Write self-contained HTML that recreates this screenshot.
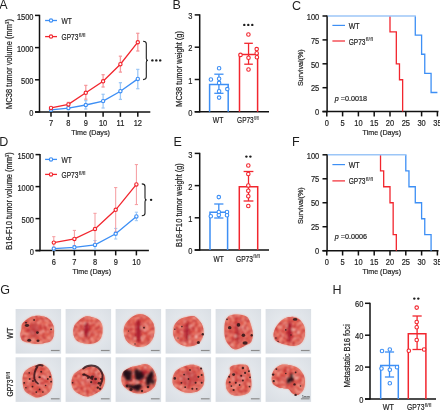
<!DOCTYPE html><html><head><meta charset="utf-8"><style>html,body{margin:0;padding:0;background:#fff;}body{width:440px;height:410px;overflow:hidden;}svg{display:block;will-change:transform;}text{font-family:"Liberation Sans", sans-serif;}</style></head><body><svg width="440" height="410" viewBox="0 0 440 410" font-family="'Liberation Sans', sans-serif">
<style>.t text{stroke:#1e1e1e;stroke-width:0.2px;paint-order:stroke;} </style>
<rect width="440" height="410" fill="#fff"/>
<g class="t">
<text x="-0.8" y="8.6" font-size="12.5" fill="#1e1e1e" style="stroke:none">A</text>
<text x="172.5" y="9.4" font-size="12.5" fill="#1e1e1e" style="stroke:none">B</text>
<text x="292.0" y="9.6" font-size="12.5" fill="#1e1e1e" style="stroke:none">C</text>
<text x="-0.8" y="145.8" font-size="12.5" fill="#1e1e1e" style="stroke:none">D</text>
<text x="173.5" y="145.5" font-size="12.5" fill="#1e1e1e" style="stroke:none">E</text>
<text x="292.0" y="146.2" font-size="12.5" fill="#1e1e1e" style="stroke:none">F</text>
<text x="0.2" y="293.9" font-size="12.5" fill="#1e1e1e" style="stroke:none">G</text>
<text x="332.5" y="294.3" font-size="12.5" fill="#1e1e1e" style="stroke:none">H</text>
<line x1="39.50" y1="14.80" x2="39.50" y2="112.60" stroke="#111" stroke-width="1.5" />
<line x1="35.00" y1="112.00" x2="39.50" y2="112.00" stroke="#111" stroke-width="1.5" />
<text x="0" y="0" font-size="8.6" text-anchor="end" fill="#1e1e1e" transform="translate(33.50 116.10) scale(0.87 1)" >0</text>
<line x1="35.00" y1="79.80" x2="39.50" y2="79.80" stroke="#111" stroke-width="1.5" />
<text x="0" y="0" font-size="8.6" text-anchor="end" fill="#1e1e1e" transform="translate(33.50 83.90) scale(0.87 1)" >500</text>
<line x1="35.00" y1="47.60" x2="39.50" y2="47.60" stroke="#111" stroke-width="1.5" />
<text x="0" y="0" font-size="8.6" text-anchor="end" fill="#1e1e1e" transform="translate(33.50 51.70) scale(0.87 1)" >1000</text>
<line x1="35.00" y1="15.40" x2="39.50" y2="15.40" stroke="#111" stroke-width="1.5" />
<text x="0" y="0" font-size="8.6" text-anchor="end" fill="#1e1e1e" transform="translate(33.50 19.50) scale(0.87 1)" >1500</text>
<line x1="35.00" y1="112.00" x2="150.30" y2="112.00" stroke="#111" stroke-width="1.5" />
<line x1="51.00" y1="112.00" x2="51.00" y2="116.80" stroke="#111" stroke-width="1.5" />
<text x="0" y="0" font-size="8.6" text-anchor="middle" fill="#1e1e1e" transform="translate(51.00 126.00) scale(0.87 1)" >7</text>
<line x1="68.40" y1="112.00" x2="68.40" y2="116.80" stroke="#111" stroke-width="1.5" />
<text x="0" y="0" font-size="8.6" text-anchor="middle" fill="#1e1e1e" transform="translate(68.40 126.00) scale(0.87 1)" >8</text>
<line x1="85.80" y1="112.00" x2="85.80" y2="116.80" stroke="#111" stroke-width="1.5" />
<text x="0" y="0" font-size="8.6" text-anchor="middle" fill="#1e1e1e" transform="translate(85.80 126.00) scale(0.87 1)" >9</text>
<line x1="103.10" y1="112.00" x2="103.10" y2="116.80" stroke="#111" stroke-width="1.5" />
<text x="0" y="0" font-size="8.6" text-anchor="middle" fill="#1e1e1e" transform="translate(103.10 126.00) scale(0.87 1)" >10</text>
<line x1="120.40" y1="112.00" x2="120.40" y2="116.80" stroke="#111" stroke-width="1.5" />
<text x="0" y="0" font-size="8.6" text-anchor="middle" fill="#1e1e1e" transform="translate(120.40 126.00) scale(0.87 1)" >11</text>
<line x1="137.80" y1="112.00" x2="137.80" y2="116.80" stroke="#111" stroke-width="1.5" />
<text x="0" y="0" font-size="8.6" text-anchor="middle" fill="#1e1e1e" transform="translate(137.80 126.00) scale(0.87 1)" >12</text>
<text x="90.60" y="135.30" font-size="7.8" text-anchor="middle" fill="#1e1e1e" textLength="38.5" lengthAdjust="spacingAndGlyphs" >Time (Days)</text>
<text x="11.9" y="64.0" font-size="8.2" text-anchor="middle" fill="#1e1e1e" transform="rotate(-90 11.9 64.0)" textLength="89.8" lengthAdjust="spacingAndGlyphs">MC38 tumor volume (mm<tspan font-size="4.5" dy="-2.5">3</tspan><tspan dy="2.5">)</tspan></text>
<line x1="68.40" y1="106.60" x2="68.40" y2="109.60" stroke="#9ec8f6" stroke-width="1.3" />
<line x1="66.80" y1="106.60" x2="70.00" y2="106.60" stroke="#9ec8f6" stroke-width="1.3" />
<line x1="66.80" y1="109.60" x2="70.00" y2="109.60" stroke="#9ec8f6" stroke-width="1.3" />
<line x1="85.80" y1="100.60" x2="85.80" y2="109.00" stroke="#9ec8f6" stroke-width="1.3" />
<line x1="84.20" y1="100.60" x2="87.40" y2="100.60" stroke="#9ec8f6" stroke-width="1.3" />
<line x1="84.20" y1="109.00" x2="87.40" y2="109.00" stroke="#9ec8f6" stroke-width="1.3" />
<line x1="103.10" y1="94.30" x2="103.10" y2="108.00" stroke="#9ec8f6" stroke-width="1.3" />
<line x1="101.50" y1="94.30" x2="104.70" y2="94.30" stroke="#9ec8f6" stroke-width="1.3" />
<line x1="101.50" y1="108.00" x2="104.70" y2="108.00" stroke="#9ec8f6" stroke-width="1.3" />
<line x1="120.40" y1="82.70" x2="120.40" y2="99.40" stroke="#9ec8f6" stroke-width="1.3" />
<line x1="118.80" y1="82.70" x2="122.00" y2="82.70" stroke="#9ec8f6" stroke-width="1.3" />
<line x1="118.80" y1="99.40" x2="122.00" y2="99.40" stroke="#9ec8f6" stroke-width="1.3" />
<line x1="137.80" y1="69.40" x2="137.80" y2="88.70" stroke="#9ec8f6" stroke-width="1.3" />
<line x1="136.20" y1="69.40" x2="139.40" y2="69.40" stroke="#9ec8f6" stroke-width="1.3" />
<line x1="136.20" y1="88.70" x2="139.40" y2="88.70" stroke="#9ec8f6" stroke-width="1.3" />
<line x1="68.40" y1="102.40" x2="68.40" y2="106.40" stroke="#f59a9e" stroke-width="1.3" />
<line x1="66.80" y1="102.40" x2="70.00" y2="102.40" stroke="#f59a9e" stroke-width="1.3" />
<line x1="66.80" y1="106.40" x2="70.00" y2="106.40" stroke="#f59a9e" stroke-width="1.3" />
<line x1="85.80" y1="85.40" x2="85.80" y2="99.20" stroke="#f59a9e" stroke-width="1.3" />
<line x1="84.20" y1="85.40" x2="87.40" y2="85.40" stroke="#f59a9e" stroke-width="1.3" />
<line x1="84.20" y1="99.20" x2="87.40" y2="99.20" stroke="#f59a9e" stroke-width="1.3" />
<line x1="103.10" y1="74.70" x2="103.10" y2="87.00" stroke="#f59a9e" stroke-width="1.3" />
<line x1="101.50" y1="74.70" x2="104.70" y2="74.70" stroke="#f59a9e" stroke-width="1.3" />
<line x1="101.50" y1="87.00" x2="104.70" y2="87.00" stroke="#f59a9e" stroke-width="1.3" />
<line x1="120.40" y1="56.20" x2="120.40" y2="72.10" stroke="#f59a9e" stroke-width="1.3" />
<line x1="118.80" y1="56.20" x2="122.00" y2="56.20" stroke="#f59a9e" stroke-width="1.3" />
<line x1="118.80" y1="72.10" x2="122.00" y2="72.10" stroke="#f59a9e" stroke-width="1.3" />
<line x1="137.80" y1="33.30" x2="137.80" y2="51.00" stroke="#f59a9e" stroke-width="1.3" />
<line x1="136.20" y1="33.30" x2="139.40" y2="33.30" stroke="#f59a9e" stroke-width="1.3" />
<line x1="136.20" y1="51.00" x2="139.40" y2="51.00" stroke="#f59a9e" stroke-width="1.3" />
<polyline points="51.00,109.80 68.40,108.10 85.80,105.00 103.10,101.10 120.40,91.20 137.80,78.90" fill="none" stroke="#3d8ff5" stroke-width="1.3"/>
<circle cx="51.00" cy="109.80" r="1.65" fill="#fff" stroke="#3d8ff5" stroke-width="1.15"/>
<circle cx="68.40" cy="108.10" r="1.65" fill="#fff" stroke="#3d8ff5" stroke-width="1.15"/>
<circle cx="85.80" cy="105.00" r="1.65" fill="#fff" stroke="#3d8ff5" stroke-width="1.15"/>
<circle cx="103.10" cy="101.10" r="1.65" fill="#fff" stroke="#3d8ff5" stroke-width="1.15"/>
<circle cx="120.40" cy="91.20" r="1.65" fill="#fff" stroke="#3d8ff5" stroke-width="1.15"/>
<circle cx="137.80" cy="78.90" r="1.65" fill="#fff" stroke="#3d8ff5" stroke-width="1.15"/>
<polyline points="51.00,107.90 68.40,104.40 85.80,92.80 103.10,81.30 120.40,64.20 137.80,42.20" fill="none" stroke="#f2262e" stroke-width="1.3"/>
<circle cx="51.00" cy="107.90" r="1.65" fill="#fff" stroke="#f2262e" stroke-width="1.15"/>
<circle cx="68.40" cy="104.40" r="1.65" fill="#fff" stroke="#f2262e" stroke-width="1.15"/>
<circle cx="85.80" cy="92.80" r="1.65" fill="#fff" stroke="#f2262e" stroke-width="1.15"/>
<circle cx="103.10" cy="81.30" r="1.65" fill="#fff" stroke="#f2262e" stroke-width="1.15"/>
<circle cx="120.40" cy="64.20" r="1.65" fill="#fff" stroke="#f2262e" stroke-width="1.15"/>
<circle cx="137.80" cy="42.20" r="1.65" fill="#fff" stroke="#f2262e" stroke-width="1.15"/>
<line x1="45.10" y1="20.50" x2="57.00" y2="20.50" stroke="#3d8ff5" stroke-width="1.3" />
<circle cx="51.00" cy="20.50" r="1.65" fill="#fff" stroke="#3d8ff5" stroke-width="1.15"/>
<line x1="45.10" y1="36.60" x2="57.00" y2="36.60" stroke="#f2262e" stroke-width="1.3" />
<circle cx="51.00" cy="36.60" r="1.65" fill="#fff" stroke="#f2262e" stroke-width="1.15"/>
<text x="61.60" y="23.90" font-size="8.3" text-anchor="start" fill="#1e1e1e" textLength="10.30" lengthAdjust="spacingAndGlyphs" >WT</text>
<text x="61.60" y="39.80" font-size="8.3" text-anchor="start" fill="#1e1e1e" textLength="16.80" lengthAdjust="spacingAndGlyphs" >GP73</text>
<text x="78.70" y="36.70" font-size="4.5" fill="#1e1e1e" textLength="6.90" lengthAdjust="spacingAndGlyphs" style="stroke-width:0.05px">fl/fl</text>
<path d="M143.10,41.20 Q146.30,41.20 146.30,43.70 L146.30,58.60 Q146.30,60.40 147.90,60.40 Q146.30,60.40 146.30,62.20 L146.30,77.10 Q146.30,79.60 143.10,79.60" fill="none" stroke="#1e1e1e" stroke-width="1.1"/>
<circle cx="152.40" cy="60.40" r="1.2" fill="#1e1e1e"/>
<circle cx="156.30" cy="60.40" r="1.2" fill="#1e1e1e"/>
<circle cx="160.20" cy="60.40" r="1.2" fill="#1e1e1e"/>
<line x1="40.00" y1="154.00" x2="40.00" y2="251.20" stroke="#111" stroke-width="1.5" />
<line x1="35.50" y1="250.60" x2="40.00" y2="250.60" stroke="#111" stroke-width="1.5" />
<text x="0" y="0" font-size="8.6" text-anchor="end" fill="#1e1e1e" transform="translate(34.00 254.70) scale(0.87 1)" >0</text>
<line x1="35.50" y1="218.60" x2="40.00" y2="218.60" stroke="#111" stroke-width="1.5" />
<text x="0" y="0" font-size="8.6" text-anchor="end" fill="#1e1e1e" transform="translate(34.00 222.70) scale(0.87 1)" >500</text>
<line x1="35.50" y1="186.60" x2="40.00" y2="186.60" stroke="#111" stroke-width="1.5" />
<text x="0" y="0" font-size="8.6" text-anchor="end" fill="#1e1e1e" transform="translate(34.00 190.70) scale(0.87 1)" >1000</text>
<line x1="35.50" y1="154.60" x2="40.00" y2="154.60" stroke="#111" stroke-width="1.5" />
<text x="0" y="0" font-size="8.6" text-anchor="end" fill="#1e1e1e" transform="translate(34.00 158.70) scale(0.87 1)" >1500</text>
<line x1="35.50" y1="250.60" x2="148.90" y2="250.60" stroke="#111" stroke-width="1.5" />
<line x1="53.80" y1="250.60" x2="53.80" y2="255.40" stroke="#111" stroke-width="1.5" />
<text x="0" y="0" font-size="8.6" text-anchor="middle" fill="#1e1e1e" transform="translate(53.80 264.80) scale(0.87 1)" >6</text>
<line x1="74.40" y1="250.60" x2="74.40" y2="255.40" stroke="#111" stroke-width="1.5" />
<text x="0" y="0" font-size="8.6" text-anchor="middle" fill="#1e1e1e" transform="translate(74.40 264.80) scale(0.87 1)" >7</text>
<line x1="95.00" y1="250.60" x2="95.00" y2="255.40" stroke="#111" stroke-width="1.5" />
<text x="0" y="0" font-size="8.6" text-anchor="middle" fill="#1e1e1e" transform="translate(95.00 264.80) scale(0.87 1)" >8</text>
<line x1="115.70" y1="250.60" x2="115.70" y2="255.40" stroke="#111" stroke-width="1.5" />
<text x="0" y="0" font-size="8.6" text-anchor="middle" fill="#1e1e1e" transform="translate(115.70 264.80) scale(0.87 1)" >9</text>
<line x1="136.40" y1="250.60" x2="136.40" y2="255.40" stroke="#111" stroke-width="1.5" />
<text x="0" y="0" font-size="8.6" text-anchor="middle" fill="#1e1e1e" transform="translate(136.40 264.80) scale(0.87 1)" >10</text>
<text x="91.80" y="273.80" font-size="7.8" text-anchor="middle" fill="#1e1e1e" textLength="38.5" lengthAdjust="spacingAndGlyphs" >Time (Days)</text>
<text x="11.5" y="201.0" font-size="8.2" text-anchor="middle" fill="#1e1e1e" transform="rotate(-90 11.5 201.0)" textLength="97.3" lengthAdjust="spacingAndGlyphs">B16-F10 tumor volume (mm<tspan font-size="4.5" dy="-2.5">3</tspan><tspan dy="2.5">)</tspan></text>
<line x1="53.80" y1="247.00" x2="53.80" y2="250.20" stroke="#9ec8f6" stroke-width="1.0" />
<line x1="52.20" y1="247.00" x2="55.40" y2="247.00" stroke="#9ec8f6" stroke-width="1.0" />
<line x1="52.20" y1="250.20" x2="55.40" y2="250.20" stroke="#9ec8f6" stroke-width="1.0" />
<line x1="74.40" y1="245.50" x2="74.40" y2="249.10" stroke="#9ec8f6" stroke-width="1.0" />
<line x1="72.80" y1="245.50" x2="76.00" y2="245.50" stroke="#9ec8f6" stroke-width="1.0" />
<line x1="72.80" y1="249.10" x2="76.00" y2="249.10" stroke="#9ec8f6" stroke-width="1.0" />
<line x1="95.00" y1="240.50" x2="95.00" y2="249.30" stroke="#9ec8f6" stroke-width="1.0" />
<line x1="93.40" y1="240.50" x2="96.60" y2="240.50" stroke="#9ec8f6" stroke-width="1.0" />
<line x1="93.40" y1="249.30" x2="96.60" y2="249.30" stroke="#9ec8f6" stroke-width="1.0" />
<line x1="115.70" y1="228.40" x2="115.70" y2="239.00" stroke="#9ec8f6" stroke-width="1.0" />
<line x1="114.10" y1="228.40" x2="117.30" y2="228.40" stroke="#9ec8f6" stroke-width="1.0" />
<line x1="114.10" y1="239.00" x2="117.30" y2="239.00" stroke="#9ec8f6" stroke-width="1.0" />
<line x1="136.40" y1="212.20" x2="136.40" y2="220.70" stroke="#9ec8f6" stroke-width="1.0" />
<line x1="134.80" y1="212.20" x2="138.00" y2="212.20" stroke="#9ec8f6" stroke-width="1.0" />
<line x1="134.80" y1="220.70" x2="138.00" y2="220.70" stroke="#9ec8f6" stroke-width="1.0" />
<line x1="53.80" y1="236.70" x2="53.80" y2="248.50" stroke="#f59a9e" stroke-width="1.0" />
<line x1="52.20" y1="236.70" x2="55.40" y2="236.70" stroke="#f59a9e" stroke-width="1.0" />
<line x1="52.20" y1="248.50" x2="55.40" y2="248.50" stroke="#f59a9e" stroke-width="1.0" />
<line x1="74.40" y1="230.40" x2="74.40" y2="247.40" stroke="#f59a9e" stroke-width="1.0" />
<line x1="72.80" y1="230.40" x2="76.00" y2="230.40" stroke="#f59a9e" stroke-width="1.0" />
<line x1="72.80" y1="247.40" x2="76.00" y2="247.40" stroke="#f59a9e" stroke-width="1.0" />
<line x1="95.00" y1="213.30" x2="95.00" y2="244.70" stroke="#f59a9e" stroke-width="1.0" />
<line x1="93.40" y1="213.30" x2="96.60" y2="213.30" stroke="#f59a9e" stroke-width="1.0" />
<line x1="93.40" y1="244.70" x2="96.60" y2="244.70" stroke="#f59a9e" stroke-width="1.0" />
<line x1="115.70" y1="187.60" x2="115.70" y2="232.00" stroke="#f59a9e" stroke-width="1.0" />
<line x1="114.10" y1="187.60" x2="117.30" y2="187.60" stroke="#f59a9e" stroke-width="1.0" />
<line x1="114.10" y1="232.00" x2="117.30" y2="232.00" stroke="#f59a9e" stroke-width="1.0" />
<line x1="136.40" y1="164.60" x2="136.40" y2="204.60" stroke="#f59a9e" stroke-width="1.0" />
<line x1="134.80" y1="164.60" x2="138.00" y2="164.60" stroke="#f59a9e" stroke-width="1.0" />
<line x1="134.80" y1="204.60" x2="138.00" y2="204.60" stroke="#f59a9e" stroke-width="1.0" />
<polyline points="53.80,248.60 74.40,247.30 95.00,244.90 115.70,233.70 136.40,216.40" fill="none" stroke="#3d8ff5" stroke-width="1.3"/>
<circle cx="53.80" cy="248.60" r="1.65" fill="#fff" stroke="#3d8ff5" stroke-width="1.15"/>
<circle cx="74.40" cy="247.30" r="1.65" fill="#fff" stroke="#3d8ff5" stroke-width="1.15"/>
<circle cx="95.00" cy="244.90" r="1.65" fill="#fff" stroke="#3d8ff5" stroke-width="1.15"/>
<circle cx="115.70" cy="233.70" r="1.65" fill="#fff" stroke="#3d8ff5" stroke-width="1.15"/>
<circle cx="136.40" cy="216.40" r="1.65" fill="#fff" stroke="#3d8ff5" stroke-width="1.15"/>
<polyline points="53.80,242.60 74.40,238.90 95.00,229.00 115.70,209.80 136.40,184.40" fill="none" stroke="#f2262e" stroke-width="1.3"/>
<circle cx="53.80" cy="242.60" r="1.65" fill="#fff" stroke="#f2262e" stroke-width="1.15"/>
<circle cx="74.40" cy="238.90" r="1.65" fill="#fff" stroke="#f2262e" stroke-width="1.15"/>
<circle cx="95.00" cy="229.00" r="1.65" fill="#fff" stroke="#f2262e" stroke-width="1.15"/>
<circle cx="115.70" cy="209.80" r="1.65" fill="#fff" stroke="#f2262e" stroke-width="1.15"/>
<circle cx="136.40" cy="184.40" r="1.65" fill="#fff" stroke="#f2262e" stroke-width="1.15"/>
<line x1="45.10" y1="159.40" x2="57.00" y2="159.40" stroke="#3d8ff5" stroke-width="1.3" />
<circle cx="51.00" cy="159.40" r="1.65" fill="#fff" stroke="#3d8ff5" stroke-width="1.15"/>
<line x1="45.10" y1="174.40" x2="57.00" y2="174.40" stroke="#f2262e" stroke-width="1.3" />
<circle cx="51.00" cy="174.40" r="1.65" fill="#fff" stroke="#f2262e" stroke-width="1.15"/>
<text x="61.60" y="162.80" font-size="8.3" text-anchor="start" fill="#1e1e1e" textLength="10.30" lengthAdjust="spacingAndGlyphs" >WT</text>
<text x="61.60" y="177.60" font-size="8.3" text-anchor="start" fill="#1e1e1e" textLength="16.80" lengthAdjust="spacingAndGlyphs" >GP73</text>
<text x="78.70" y="174.50" font-size="4.5" fill="#1e1e1e" textLength="6.90" lengthAdjust="spacingAndGlyphs" style="stroke-width:0.05px">fl/fl</text>
<path d="M141.80,183.90 Q145.00,183.90 145.00,186.40 L145.00,198.05 Q145.00,199.85 146.60,199.85 Q145.00,199.85 145.00,201.65 L145.00,213.30 Q145.00,215.80 141.80,215.80" fill="none" stroke="#1e1e1e" stroke-width="1.1"/>
<circle cx="151.10" cy="199.85" r="1.2" fill="#1e1e1e"/>
<line x1="199.70" y1="14.30" x2="199.70" y2="112.40" stroke="#111" stroke-width="1.5" />
<line x1="194.70" y1="111.80" x2="199.70" y2="111.80" stroke="#111" stroke-width="1.5" />
<text x="0" y="0" font-size="8.6" text-anchor="end" fill="#1e1e1e" transform="translate(192.30 115.90) scale(0.87 1)" >0</text>
<line x1="194.70" y1="79.50" x2="199.70" y2="79.50" stroke="#111" stroke-width="1.5" />
<text x="0" y="0" font-size="8.6" text-anchor="end" fill="#1e1e1e" transform="translate(192.30 83.60) scale(0.87 1)" >1</text>
<line x1="194.70" y1="47.20" x2="199.70" y2="47.20" stroke="#111" stroke-width="1.5" />
<text x="0" y="0" font-size="8.6" text-anchor="end" fill="#1e1e1e" transform="translate(192.30 51.30) scale(0.87 1)" >2</text>
<line x1="194.70" y1="14.90" x2="199.70" y2="14.90" stroke="#111" stroke-width="1.5" />
<text x="0" y="0" font-size="8.6" text-anchor="end" fill="#1e1e1e" transform="translate(192.30 19.00) scale(0.87 1)" >3</text>
<line x1="194.70" y1="111.80" x2="269.00" y2="111.80" stroke="#111" stroke-width="1.5" />
<text x="181.9" y="68.9" font-size="8.2" text-anchor="middle" fill="#1e1e1e" transform="rotate(-90 181.9 68.9)" textLength="75.7" lengthAdjust="spacingAndGlyphs">MC38 tumor weight (g)</text>
<path d="M209.60,111.80 L209.60,84.50 L228.20,84.50 L228.20,111.80" fill="none" stroke="#3d8ff5" stroke-width="1.5"/>
<line x1="218.90" y1="74.20" x2="218.90" y2="93.30" stroke="#3d8ff5" stroke-width="1.3" />
<line x1="214.30" y1="74.20" x2="223.50" y2="74.20" stroke="#3d8ff5" stroke-width="1.3" />
<line x1="214.30" y1="93.30" x2="223.50" y2="93.30" stroke="#3d8ff5" stroke-width="1.3" />
<circle cx="219.10" cy="68.20" r="1.75" fill="#fff" stroke="#3d8ff5" stroke-width="1.1"/>
<circle cx="210.90" cy="79.50" r="1.75" fill="#fff" stroke="#3d8ff5" stroke-width="1.1"/>
<circle cx="219.10" cy="78.70" r="1.75" fill="#fff" stroke="#3d8ff5" stroke-width="1.1"/>
<circle cx="219.10" cy="82.90" r="1.75" fill="#fff" stroke="#3d8ff5" stroke-width="1.1"/>
<circle cx="227.30" cy="89.10" r="1.75" fill="#fff" stroke="#3d8ff5" stroke-width="1.1"/>
<circle cx="219.10" cy="91.30" r="1.75" fill="#fff" stroke="#3d8ff5" stroke-width="1.1"/>
<circle cx="219.10" cy="97.60" r="1.75" fill="#fff" stroke="#3d8ff5" stroke-width="1.1"/>
<path d="M239.50,111.80 L239.50,54.50 L257.60,54.50 L257.60,111.80" fill="none" stroke="#f2262e" stroke-width="1.5"/>
<line x1="248.55" y1="43.30" x2="248.55" y2="64.20" stroke="#f2262e" stroke-width="1.3" />
<line x1="244.25" y1="43.30" x2="252.85" y2="43.30" stroke="#f2262e" stroke-width="1.3" />
<line x1="244.25" y1="64.20" x2="252.85" y2="64.20" stroke="#f2262e" stroke-width="1.3" />
<circle cx="248.40" cy="34.50" r="1.75" fill="#fff" stroke="#f2262e" stroke-width="1.1"/>
<circle cx="256.70" cy="49.10" r="1.75" fill="#fff" stroke="#f2262e" stroke-width="1.1"/>
<circle cx="256.70" cy="53.30" r="1.75" fill="#fff" stroke="#f2262e" stroke-width="1.1"/>
<circle cx="256.90" cy="57.30" r="1.75" fill="#fff" stroke="#f2262e" stroke-width="1.1"/>
<circle cx="240.50" cy="54.90" r="1.75" fill="#fff" stroke="#f2262e" stroke-width="1.1"/>
<circle cx="248.50" cy="57.80" r="1.75" fill="#fff" stroke="#f2262e" stroke-width="1.1"/>
<circle cx="248.50" cy="69.50" r="1.75" fill="#fff" stroke="#f2262e" stroke-width="1.1"/>
<circle cx="244.30" cy="24.90" r="1.2" fill="#1e1e1e"/>
<circle cx="248.30" cy="24.90" r="1.2" fill="#1e1e1e"/>
<circle cx="252.30" cy="24.90" r="1.2" fill="#1e1e1e"/>
<text x="212.80" y="122.70" font-size="8.3" text-anchor="start" fill="#1e1e1e" textLength="10.60" lengthAdjust="spacingAndGlyphs" >WT</text>
<text x="237.10" y="122.70" font-size="8.3" text-anchor="start" fill="#1e1e1e" textLength="16.60" lengthAdjust="spacingAndGlyphs" >GP73</text>
<text x="254.00" y="119.60" font-size="4.5" fill="#1e1e1e" textLength="4.80" lengthAdjust="spacingAndGlyphs" style="stroke-width:0.05px">fl/fl</text>
<line x1="199.70" y1="152.80" x2="199.70" y2="250.60" stroke="#111" stroke-width="1.5" />
<line x1="194.70" y1="250.00" x2="199.70" y2="250.00" stroke="#111" stroke-width="1.5" />
<text x="0" y="0" font-size="8.6" text-anchor="end" fill="#1e1e1e" transform="translate(192.30 254.10) scale(0.87 1)" >0</text>
<line x1="194.70" y1="217.80" x2="199.70" y2="217.80" stroke="#111" stroke-width="1.5" />
<text x="0" y="0" font-size="8.6" text-anchor="end" fill="#1e1e1e" transform="translate(192.30 221.90) scale(0.87 1)" >1</text>
<line x1="194.70" y1="185.60" x2="199.70" y2="185.60" stroke="#111" stroke-width="1.5" />
<text x="0" y="0" font-size="8.6" text-anchor="end" fill="#1e1e1e" transform="translate(192.30 189.70) scale(0.87 1)" >2</text>
<line x1="194.70" y1="153.40" x2="199.70" y2="153.40" stroke="#111" stroke-width="1.5" />
<text x="0" y="0" font-size="8.6" text-anchor="end" fill="#1e1e1e" transform="translate(192.30 157.50) scale(0.87 1)" >3</text>
<line x1="194.70" y1="250.00" x2="269.00" y2="250.00" stroke="#111" stroke-width="1.5" />
<text x="181.9" y="205.1" font-size="8.2" text-anchor="middle" fill="#1e1e1e" transform="rotate(-90 181.9 205.1)" textLength="83.8" lengthAdjust="spacingAndGlyphs">B16-F10 tumor weight (g)</text>
<path d="M210.00,250.00 L210.00,212.20 L227.60,212.20 L227.60,250.00" fill="none" stroke="#3d8ff5" stroke-width="1.5"/>
<line x1="218.80" y1="204.00" x2="218.80" y2="218.00" stroke="#3d8ff5" stroke-width="1.3" />
<line x1="214.20" y1="204.00" x2="223.40" y2="204.00" stroke="#3d8ff5" stroke-width="1.3" />
<line x1="214.20" y1="218.00" x2="223.40" y2="218.00" stroke="#3d8ff5" stroke-width="1.3" />
<circle cx="218.80" cy="197.10" r="1.75" fill="#fff" stroke="#3d8ff5" stroke-width="1.1"/>
<circle cx="210.80" cy="216.20" r="1.75" fill="#fff" stroke="#3d8ff5" stroke-width="1.1"/>
<circle cx="218.80" cy="215.00" r="1.75" fill="#fff" stroke="#3d8ff5" stroke-width="1.1"/>
<circle cx="227.00" cy="212.00" r="1.75" fill="#fff" stroke="#3d8ff5" stroke-width="1.1"/>
<circle cx="227.00" cy="215.20" r="1.75" fill="#fff" stroke="#3d8ff5" stroke-width="1.1"/>
<circle cx="218.80" cy="212.00" r="1.75" fill="#fff" stroke="#3d8ff5" stroke-width="1.1"/>
<path d="M239.30,250.00 L239.30,186.80 L257.70,186.80 L257.70,250.00" fill="none" stroke="#f2262e" stroke-width="1.5"/>
<line x1="248.50" y1="171.50" x2="248.50" y2="201.00" stroke="#f2262e" stroke-width="1.3" />
<line x1="243.60" y1="171.50" x2="253.40" y2="171.50" stroke="#f2262e" stroke-width="1.3" />
<line x1="243.60" y1="201.00" x2="253.40" y2="201.00" stroke="#f2262e" stroke-width="1.3" />
<circle cx="248.30" cy="165.50" r="1.75" fill="#fff" stroke="#f2262e" stroke-width="1.1"/>
<circle cx="248.30" cy="174.00" r="1.75" fill="#fff" stroke="#f2262e" stroke-width="1.1"/>
<circle cx="248.30" cy="185.50" r="1.75" fill="#fff" stroke="#f2262e" stroke-width="1.1"/>
<circle cx="248.30" cy="190.80" r="1.75" fill="#fff" stroke="#f2262e" stroke-width="1.1"/>
<circle cx="248.30" cy="196.20" r="1.75" fill="#fff" stroke="#f2262e" stroke-width="1.1"/>
<circle cx="248.30" cy="206.00" r="1.75" fill="#fff" stroke="#f2262e" stroke-width="1.1"/>
<circle cx="246.40" cy="156.60" r="1.2" fill="#1e1e1e"/>
<circle cx="250.40" cy="156.60" r="1.2" fill="#1e1e1e"/>
<text x="213.50" y="261.50" font-size="8.3" text-anchor="start" fill="#1e1e1e" textLength="10.20" lengthAdjust="spacingAndGlyphs" >WT</text>
<text x="236.00" y="261.50" font-size="8.3" text-anchor="start" fill="#1e1e1e" textLength="17.00" lengthAdjust="spacingAndGlyphs" >GP73</text>
<text x="253.30" y="258.40" font-size="4.5" fill="#1e1e1e" textLength="6.70" lengthAdjust="spacingAndGlyphs" style="stroke-width:0.05px">fl/fl</text>
<line x1="370.00" y1="302.70" x2="370.00" y2="399.60" stroke="#111" stroke-width="1.5" />
<line x1="365.00" y1="399.00" x2="370.00" y2="399.00" stroke="#111" stroke-width="1.5" />
<text x="0" y="0" font-size="8.6" text-anchor="end" fill="#1e1e1e" transform="translate(363.30 403.10) scale(0.87 1)" >0</text>
<line x1="365.00" y1="367.10" x2="370.00" y2="367.10" stroke="#111" stroke-width="1.5" />
<text x="0" y="0" font-size="8.6" text-anchor="end" fill="#1e1e1e" transform="translate(363.30 371.20) scale(0.87 1)" >20</text>
<line x1="365.00" y1="335.20" x2="370.00" y2="335.20" stroke="#111" stroke-width="1.5" />
<text x="0" y="0" font-size="8.6" text-anchor="end" fill="#1e1e1e" transform="translate(363.30 339.30) scale(0.87 1)" >40</text>
<line x1="365.00" y1="303.30" x2="370.00" y2="303.30" stroke="#111" stroke-width="1.5" />
<text x="0" y="0" font-size="8.6" text-anchor="end" fill="#1e1e1e" transform="translate(363.30 307.40) scale(0.87 1)" >60</text>
<line x1="365.00" y1="399.00" x2="436.00" y2="399.00" stroke="#111" stroke-width="1.5" />
<text x="350.1" y="356.0" font-size="8.2" text-anchor="middle" fill="#1e1e1e" transform="rotate(-90 350.1 356.0)" textLength="63.2" lengthAdjust="spacingAndGlyphs">Metastatic B16 foci</text>
<path d="M380.70,399.00 L380.70,365.60 L398.30,365.60 L398.30,399.00" fill="none" stroke="#3d8ff5" stroke-width="1.5"/>
<line x1="389.50" y1="352.00" x2="389.50" y2="377.00" stroke="#3d8ff5" stroke-width="1.3" />
<line x1="384.90" y1="352.00" x2="394.10" y2="352.00" stroke="#3d8ff5" stroke-width="1.3" />
<line x1="384.90" y1="377.00" x2="394.10" y2="377.00" stroke="#3d8ff5" stroke-width="1.3" />
<circle cx="382.00" cy="351.00" r="1.75" fill="#fff" stroke="#3d8ff5" stroke-width="1.1"/>
<circle cx="389.80" cy="349.50" r="1.75" fill="#fff" stroke="#3d8ff5" stroke-width="1.1"/>
<circle cx="381.50" cy="368.50" r="1.75" fill="#fff" stroke="#3d8ff5" stroke-width="1.1"/>
<circle cx="389.80" cy="369.80" r="1.75" fill="#fff" stroke="#3d8ff5" stroke-width="1.1"/>
<circle cx="397.00" cy="367.30" r="1.75" fill="#fff" stroke="#3d8ff5" stroke-width="1.1"/>
<circle cx="389.80" cy="383.20" r="1.75" fill="#fff" stroke="#3d8ff5" stroke-width="1.1"/>
<path d="M408.30,399.00 L408.30,333.70 L425.90,333.70 L425.90,399.00" fill="none" stroke="#f2262e" stroke-width="1.5"/>
<line x1="417.10" y1="316.00" x2="417.10" y2="349.50" stroke="#f2262e" stroke-width="1.3" />
<line x1="412.50" y1="316.00" x2="421.70" y2="316.00" stroke="#f2262e" stroke-width="1.3" />
<line x1="412.50" y1="349.50" x2="421.70" y2="349.50" stroke="#f2262e" stroke-width="1.3" />
<circle cx="416.70" cy="307.60" r="1.75" fill="#fff" stroke="#f2262e" stroke-width="1.1"/>
<circle cx="416.70" cy="322.00" r="1.75" fill="#fff" stroke="#f2262e" stroke-width="1.1"/>
<circle cx="416.70" cy="327.30" r="1.75" fill="#fff" stroke="#f2262e" stroke-width="1.1"/>
<circle cx="416.70" cy="340.00" r="1.75" fill="#fff" stroke="#f2262e" stroke-width="1.1"/>
<circle cx="408.80" cy="350.70" r="1.75" fill="#fff" stroke="#f2262e" stroke-width="1.1"/>
<circle cx="424.10" cy="349.50" r="1.75" fill="#fff" stroke="#f2262e" stroke-width="1.1"/>
<circle cx="414.30" cy="298.60" r="1.2" fill="#1e1e1e"/>
<circle cx="418.30" cy="298.60" r="1.2" fill="#1e1e1e"/>
<text x="382.80" y="409.60" font-size="8.3" text-anchor="start" fill="#1e1e1e" textLength="11.20" lengthAdjust="spacingAndGlyphs" >WT</text>
<text x="407.10" y="409.60" font-size="8.3" text-anchor="start" fill="#1e1e1e" textLength="17.30" lengthAdjust="spacingAndGlyphs" >GP73</text>
<text x="424.70" y="406.50" font-size="4.5" fill="#1e1e1e" textLength="6.80" lengthAdjust="spacingAndGlyphs" style="stroke-width:0.05px">fl/fl</text>
<line x1="327.10" y1="15.40" x2="327.10" y2="112.20" stroke="#111" stroke-width="1.5" />
<line x1="322.50" y1="111.60" x2="327.10" y2="111.60" stroke="#111" stroke-width="1.5" />
<text x="0" y="0" font-size="8.6" text-anchor="end" fill="#1e1e1e" transform="translate(319.20 115.30) scale(0.87 1)" >0</text>
<line x1="322.50" y1="87.70" x2="327.10" y2="87.70" stroke="#111" stroke-width="1.5" />
<text x="0" y="0" font-size="8.6" text-anchor="end" fill="#1e1e1e" transform="translate(319.20 91.40) scale(0.87 1)" >25</text>
<line x1="322.50" y1="63.80" x2="327.10" y2="63.80" stroke="#111" stroke-width="1.5" />
<text x="0" y="0" font-size="8.6" text-anchor="end" fill="#1e1e1e" transform="translate(319.20 67.50) scale(0.87 1)" >50</text>
<line x1="322.50" y1="39.90" x2="327.10" y2="39.90" stroke="#111" stroke-width="1.5" />
<text x="0" y="0" font-size="8.6" text-anchor="end" fill="#1e1e1e" transform="translate(319.20 43.60) scale(0.87 1)" >75</text>
<line x1="322.50" y1="16.00" x2="327.10" y2="16.00" stroke="#111" stroke-width="1.5" />
<text x="0" y="0" font-size="8.6" text-anchor="end" fill="#1e1e1e" transform="translate(319.20 19.70) scale(0.87 1)" >100</text>
<line x1="322.50" y1="111.60" x2="438.50" y2="111.60" stroke="#111" stroke-width="1.5" />
<line x1="326.80" y1="111.60" x2="326.80" y2="116.40" stroke="#111" stroke-width="1.5" />
<text x="0" y="0" font-size="8.6" text-anchor="middle" fill="#1e1e1e" transform="translate(326.80 126.00) scale(0.87 1)" >0</text>
<line x1="342.60" y1="111.60" x2="342.60" y2="116.40" stroke="#111" stroke-width="1.5" />
<text x="0" y="0" font-size="8.6" text-anchor="middle" fill="#1e1e1e" transform="translate(342.60 126.00) scale(0.87 1)" >5</text>
<line x1="358.40" y1="111.60" x2="358.40" y2="116.40" stroke="#111" stroke-width="1.5" />
<text x="0" y="0" font-size="8.6" text-anchor="middle" fill="#1e1e1e" transform="translate(358.40 126.00) scale(0.87 1)" >10</text>
<line x1="374.20" y1="111.60" x2="374.20" y2="116.40" stroke="#111" stroke-width="1.5" />
<text x="0" y="0" font-size="8.6" text-anchor="middle" fill="#1e1e1e" transform="translate(374.20 126.00) scale(0.87 1)" >15</text>
<line x1="390.00" y1="111.60" x2="390.00" y2="116.40" stroke="#111" stroke-width="1.5" />
<text x="0" y="0" font-size="8.6" text-anchor="middle" fill="#1e1e1e" transform="translate(390.00 126.00) scale(0.87 1)" >20</text>
<line x1="405.80" y1="111.60" x2="405.80" y2="116.40" stroke="#111" stroke-width="1.5" />
<text x="0" y="0" font-size="8.6" text-anchor="middle" fill="#1e1e1e" transform="translate(405.80 126.00) scale(0.87 1)" >25</text>
<line x1="421.60" y1="111.60" x2="421.60" y2="116.40" stroke="#111" stroke-width="1.5" />
<text x="0" y="0" font-size="8.6" text-anchor="middle" fill="#1e1e1e" transform="translate(421.60 126.00) scale(0.87 1)" >30</text>
<line x1="437.40" y1="111.60" x2="437.40" y2="116.40" stroke="#111" stroke-width="1.5" />
<text x="0" y="0" font-size="8.6" text-anchor="middle" fill="#1e1e1e" transform="translate(437.40 126.00) scale(0.87 1)" >35</text>
<text x="381.80" y="135.30" font-size="7.8" text-anchor="middle" fill="#1e1e1e" textLength="38.5" lengthAdjust="spacingAndGlyphs" >Time (Days)</text>
<text x="303.2" y="67.6" font-size="7.3" text-anchor="middle" fill="#1e1e1e" transform="rotate(-90 303.2 67.6)" textLength="36.6" lengthAdjust="spacingAndGlyphs">Survival(%)</text>
<path d="M390.00,16.00 H390.00 V31.94 H396.32 V63.80 H399.48 V79.74 H402.64 V111.60" fill="none" stroke="#f2262e" stroke-width="1.3"/>
<path d="M415.28,16.00 H415.28 V35.12 H421.60 V54.24 H424.76 V73.36 H431.08 V92.48 H437.40 V92.48" fill="none" stroke="#3d8ff5" stroke-width="1.3"/>
<line x1="327.80" y1="16.00" x2="415.88" y2="16.00" stroke="#9cc6f7" stroke-width="1.5"/>
<line x1="332.40" y1="25.40" x2="345.00" y2="25.40" stroke="#3d8ff5" stroke-width="1.2" />
<line x1="332.40" y1="41.00" x2="345.00" y2="41.00" stroke="#f2262e" stroke-width="1.2" />
<text x="348.70" y="28.90" font-size="8.3" text-anchor="start" fill="#1e1e1e" textLength="10.90" lengthAdjust="spacingAndGlyphs" >WT</text>
<text x="348.70" y="44.50" font-size="8.3" text-anchor="start" fill="#1e1e1e" textLength="16.80" lengthAdjust="spacingAndGlyphs" >GP73</text>
<text x="365.80" y="41.40" font-size="4.5" fill="#1e1e1e" textLength="7.20" lengthAdjust="spacingAndGlyphs" style="stroke-width:0.05px">fl/fl</text>
<text x="334.8" y="100.6" font-size="7.2" fill="#1e1e1e"><tspan font-style="italic">p</tspan> =0.0018</text>
<line x1="327.10" y1="154.20" x2="327.10" y2="251.30" stroke="#111" stroke-width="1.5" />
<line x1="322.50" y1="250.70" x2="327.10" y2="250.70" stroke="#111" stroke-width="1.5" />
<text x="0" y="0" font-size="8.6" text-anchor="end" fill="#1e1e1e" transform="translate(319.20 254.40) scale(0.87 1)" >0</text>
<line x1="322.50" y1="226.72" x2="327.10" y2="226.72" stroke="#111" stroke-width="1.5" />
<text x="0" y="0" font-size="8.6" text-anchor="end" fill="#1e1e1e" transform="translate(319.20 230.42) scale(0.87 1)" >25</text>
<line x1="322.50" y1="202.75" x2="327.10" y2="202.75" stroke="#111" stroke-width="1.5" />
<text x="0" y="0" font-size="8.6" text-anchor="end" fill="#1e1e1e" transform="translate(319.20 206.45) scale(0.87 1)" >50</text>
<line x1="322.50" y1="178.78" x2="327.10" y2="178.78" stroke="#111" stroke-width="1.5" />
<text x="0" y="0" font-size="8.6" text-anchor="end" fill="#1e1e1e" transform="translate(319.20 182.47) scale(0.87 1)" >75</text>
<line x1="322.50" y1="154.80" x2="327.10" y2="154.80" stroke="#111" stroke-width="1.5" />
<text x="0" y="0" font-size="8.6" text-anchor="end" fill="#1e1e1e" transform="translate(319.20 158.50) scale(0.87 1)" >100</text>
<line x1="322.50" y1="250.70" x2="438.50" y2="250.70" stroke="#111" stroke-width="1.5" />
<line x1="326.80" y1="250.70" x2="326.80" y2="255.50" stroke="#111" stroke-width="1.5" />
<text x="0" y="0" font-size="8.6" text-anchor="middle" fill="#1e1e1e" transform="translate(326.80 264.80) scale(0.87 1)" >0</text>
<line x1="342.60" y1="250.70" x2="342.60" y2="255.50" stroke="#111" stroke-width="1.5" />
<text x="0" y="0" font-size="8.6" text-anchor="middle" fill="#1e1e1e" transform="translate(342.60 264.80) scale(0.87 1)" >5</text>
<line x1="358.40" y1="250.70" x2="358.40" y2="255.50" stroke="#111" stroke-width="1.5" />
<text x="0" y="0" font-size="8.6" text-anchor="middle" fill="#1e1e1e" transform="translate(358.40 264.80) scale(0.87 1)" >10</text>
<line x1="374.20" y1="250.70" x2="374.20" y2="255.50" stroke="#111" stroke-width="1.5" />
<text x="0" y="0" font-size="8.6" text-anchor="middle" fill="#1e1e1e" transform="translate(374.20 264.80) scale(0.87 1)" >15</text>
<line x1="390.00" y1="250.70" x2="390.00" y2="255.50" stroke="#111" stroke-width="1.5" />
<text x="0" y="0" font-size="8.6" text-anchor="middle" fill="#1e1e1e" transform="translate(390.00 264.80) scale(0.87 1)" >20</text>
<line x1="405.80" y1="250.70" x2="405.80" y2="255.50" stroke="#111" stroke-width="1.5" />
<text x="0" y="0" font-size="8.6" text-anchor="middle" fill="#1e1e1e" transform="translate(405.80 264.80) scale(0.87 1)" >25</text>
<line x1="421.60" y1="250.70" x2="421.60" y2="255.50" stroke="#111" stroke-width="1.5" />
<text x="0" y="0" font-size="8.6" text-anchor="middle" fill="#1e1e1e" transform="translate(421.60 264.80) scale(0.87 1)" >30</text>
<line x1="437.40" y1="250.70" x2="437.40" y2="255.50" stroke="#111" stroke-width="1.5" />
<text x="0" y="0" font-size="8.6" text-anchor="middle" fill="#1e1e1e" transform="translate(437.40 264.80) scale(0.87 1)" >35</text>
<text x="381.80" y="274.30" font-size="7.8" text-anchor="middle" fill="#1e1e1e" textLength="38.5" lengthAdjust="spacingAndGlyphs" >Time (Days)</text>
<text x="303.2" y="205.6" font-size="7.3" text-anchor="middle" fill="#1e1e1e" transform="rotate(-90 303.2 205.6)" textLength="36.6" lengthAdjust="spacingAndGlyphs">Survival(%)</text>
<path d="M380.52,154.80 H380.52 V170.79 H383.68 V186.76 H390.00 V202.75 H393.16 V234.71 H396.32 V250.70" fill="none" stroke="#f2262e" stroke-width="1.3"/>
<path d="M405.80,154.80 H405.80 V170.79 H408.96 V186.76 H415.28 V202.75 H421.60 V218.74 H424.76 V234.71 H431.08 V250.70" fill="none" stroke="#3d8ff5" stroke-width="1.3"/>
<line x1="327.80" y1="154.80" x2="406.40" y2="154.80" stroke="#9cc6f7" stroke-width="1.5"/>
<line x1="332.40" y1="164.60" x2="345.00" y2="164.60" stroke="#3d8ff5" stroke-width="1.2" />
<line x1="332.40" y1="180.90" x2="345.00" y2="180.90" stroke="#f2262e" stroke-width="1.2" />
<text x="348.70" y="168.10" font-size="8.3" text-anchor="start" fill="#1e1e1e" textLength="10.90" lengthAdjust="spacingAndGlyphs" >WT</text>
<text x="348.70" y="184.40" font-size="8.3" text-anchor="start" fill="#1e1e1e" textLength="16.80" lengthAdjust="spacingAndGlyphs" >GP73</text>
<text x="365.80" y="181.30" font-size="4.5" fill="#1e1e1e" textLength="7.20" lengthAdjust="spacingAndGlyphs" style="stroke-width:0.05px">fl/fl</text>
<text x="334.8" y="239.3" font-size="7.2" fill="#1e1e1e"><tspan font-style="italic">p</tspan> =0.0006</text>
<defs><radialGradient id="tile" cx="50%" cy="45%" r="70%"><stop offset="0" stop-color="#eceff2"/><stop offset="1" stop-color="#d9dee4"/></radialGradient><radialGradient id="lung" cx="50%" cy="48%" r="55%"><stop offset="0" stop-color="#dc4c42"/><stop offset="0.7" stop-color="#e8644f"/><stop offset="1" stop-color="#f08a74"/></radialGradient><filter id="tex" x="0" y="0" width="100%" height="100%" color-interpolation-filters="sRGB"><feTurbulence type="fractalNoise" baseFrequency="0.4" numOctaves="2" seed="5"/><feColorMatrix type="matrix" values="0 0 0 0 0.70  0 0 0 0 0.10  0 0 0 0 0.14  3.6 0 0 0 -1.5"/><feGaussianBlur stdDeviation="0.8"/></filter><filter id="tex2" x="0" y="0" width="100%" height="100%" color-interpolation-filters="sRGB"><feTurbulence type="fractalNoise" baseFrequency="0.45" numOctaves="2" seed="11"/><feColorMatrix type="matrix" values="0 0 0 0 1.0  0 0 0 0 0.80  0 0 0 0 0.74  3.4 0 0 0 -1.6"/><feGaussianBlur stdDeviation="0.8"/></filter><filter id="soft" x="-20%" y="-20%" width="140%" height="140%"><feGaussianBlur stdDeviation="0.8"/></filter></defs>
<g transform="translate(12.8 410) rotate(-90)">
<text x="71.10" y="0.00" font-size="8.3" text-anchor="start" fill="#1e1e1e" textLength="11.30" lengthAdjust="spacingAndGlyphs" >WT</text>
<text x="13.50" y="0.00" font-size="8.3" text-anchor="start" fill="#1e1e1e" textLength="17.00" lengthAdjust="spacingAndGlyphs" >GP73</text>
<text x="30.80" y="-3.10" font-size="4.5" fill="#1e1e1e" textLength="7.20" lengthAdjust="spacingAndGlyphs" style="stroke-width:0.05px">fl/fl</text>
</g>
<rect x="15.60" y="309.00" width="45.5" height="44.6" fill="url(#tile)"/>
<clipPath id="lc0"><path d="M22.60,323.30 C24.25,321.28 28.30,317.90 31.40,316.70 C34.50,315.50 38.28,315.73 41.20,316.10 C44.12,316.47 46.88,317.33 48.90,318.90 C50.92,320.47 52.47,322.95 53.30,325.50 C54.13,328.05 54.27,331.65 53.90,334.20 C53.53,336.75 52.67,339.33 51.10,340.80 C49.53,342.27 46.68,342.45 44.50,343.00 C42.32,343.55 40.37,344.10 38.00,344.10 C35.63,344.10 32.87,343.55 30.30,343.00 C27.73,342.45 24.25,342.08 22.60,340.80 C20.95,339.52 20.58,337.30 20.40,335.30 C20.22,333.30 21.13,330.80 21.50,328.80 C21.87,326.80 20.95,325.32 22.60,323.30Z"/></clipPath>
<path d="M22.60,323.30 C24.25,321.28 28.30,317.90 31.40,316.70 C34.50,315.50 38.28,315.73 41.20,316.10 C44.12,316.47 46.88,317.33 48.90,318.90 C50.92,320.47 52.47,322.95 53.30,325.50 C54.13,328.05 54.27,331.65 53.90,334.20 C53.53,336.75 52.67,339.33 51.10,340.80 C49.53,342.27 46.68,342.45 44.50,343.00 C42.32,343.55 40.37,344.10 38.00,344.10 C35.63,344.10 32.87,343.55 30.30,343.00 C27.73,342.45 24.25,342.08 22.60,340.80 C20.95,339.52 20.58,337.30 20.40,335.30 C20.22,333.30 21.13,330.80 21.50,328.80 C21.87,326.80 20.95,325.32 22.60,323.30Z" fill="#ee9c8c" filter="url(#soft)" opacity="0.8"/>
<path d="M22.60,323.30 C24.25,321.28 28.30,317.90 31.40,316.70 C34.50,315.50 38.28,315.73 41.20,316.10 C44.12,316.47 46.88,317.33 48.90,318.90 C50.92,320.47 52.47,322.95 53.30,325.50 C54.13,328.05 54.27,331.65 53.90,334.20 C53.53,336.75 52.67,339.33 51.10,340.80 C49.53,342.27 46.68,342.45 44.50,343.00 C42.32,343.55 40.37,344.10 38.00,344.10 C35.63,344.10 32.87,343.55 30.30,343.00 C27.73,342.45 24.25,342.08 22.60,340.80 C20.95,339.52 20.58,337.30 20.40,335.30 C20.22,333.30 21.13,330.80 21.50,328.80 C21.87,326.80 20.95,325.32 22.60,323.30Z" fill="url(#lung)"/>
<g clip-path="url(#lc0)">
<rect x="15.60" y="309.00" width="45.3" height="44.6" fill="#fff" filter="url(#tex)"/>
<rect x="15.60" y="309.00" width="45.3" height="44.6" fill="#fff" filter="url(#tex2)"/>
<g filter="url(#soft)">
<circle cx="32.18" cy="332.28" r="0.86" fill="#fbe0da" opacity="0.8"/>
<circle cx="38.77" cy="333.59" r="0.65" fill="#fbe0da" opacity="0.8"/>
<circle cx="28.14" cy="336.98" r="0.78" fill="#fbe0da" opacity="0.8"/>
<circle cx="32.12" cy="339.51" r="0.93" fill="#fbe0da" opacity="0.8"/>
<circle cx="42.96" cy="331.20" r="1.05" fill="#fbe0da" opacity="0.8"/>
<ellipse cx="34" cy="330" rx="4" ry="8" fill="#a01428" opacity="0.35"/>
</g>
</g>
<ellipse cx="27" cy="325.5" rx="2.2" ry="1.4" fill="#2a1416" opacity="0.85"/>
<ellipse cx="29.2" cy="340.3" rx="1.9" ry="1.5" fill="#2a1416" opacity="0.85"/>
<ellipse cx="38" cy="340.8" rx="1.5" ry="1.2" fill="#2a1416" opacity="0.85"/>
<ellipse cx="37.4" cy="332.6" rx="1.4" ry="1.4" fill="#2a1416" opacity="0.85"/>
<ellipse cx="34.1" cy="320" rx="0.9" ry="0.9" fill="#2a1416" opacity="0.85"/>
<ellipse cx="51.1" cy="329.3" rx="0.9" ry="0.9" fill="#2a1416" opacity="0.85"/>
<ellipse cx="26" cy="322.8" rx="1.2" ry="0.8" fill="#2a1416" opacity="0.85"/>
<line x1="50.90" y1="350.50" x2="59.60" y2="350.50" stroke="#8c8c8c" stroke-width="1.2"/>
<rect x="65.60" y="309.00" width="45.5" height="44.6" fill="url(#tile)"/>
<clipPath id="lc1"><path d="M73.70,327.70 C74.25,325.52 75.17,324.03 77.00,322.20 C78.83,320.37 82.15,317.53 84.70,316.70 C87.25,315.87 89.93,316.65 92.30,317.20 C94.67,317.75 97.25,318.62 98.90,320.00 C100.55,321.38 101.65,323.13 102.20,325.50 C102.75,327.87 102.75,331.65 102.20,334.20 C101.65,336.75 100.55,339.23 98.90,340.80 C97.25,342.37 94.67,343.13 92.30,343.60 C89.93,344.07 87.25,344.07 84.70,343.60 C82.15,343.13 78.83,342.18 77.00,340.80 C75.17,339.42 74.25,337.48 73.70,335.30 C73.15,333.12 73.15,329.88 73.70,327.70Z"/></clipPath>
<path d="M73.70,327.70 C74.25,325.52 75.17,324.03 77.00,322.20 C78.83,320.37 82.15,317.53 84.70,316.70 C87.25,315.87 89.93,316.65 92.30,317.20 C94.67,317.75 97.25,318.62 98.90,320.00 C100.55,321.38 101.65,323.13 102.20,325.50 C102.75,327.87 102.75,331.65 102.20,334.20 C101.65,336.75 100.55,339.23 98.90,340.80 C97.25,342.37 94.67,343.13 92.30,343.60 C89.93,344.07 87.25,344.07 84.70,343.60 C82.15,343.13 78.83,342.18 77.00,340.80 C75.17,339.42 74.25,337.48 73.70,335.30 C73.15,333.12 73.15,329.88 73.70,327.70Z" fill="#ee9c8c" filter="url(#soft)" opacity="0.8"/>
<path d="M73.70,327.70 C74.25,325.52 75.17,324.03 77.00,322.20 C78.83,320.37 82.15,317.53 84.70,316.70 C87.25,315.87 89.93,316.65 92.30,317.20 C94.67,317.75 97.25,318.62 98.90,320.00 C100.55,321.38 101.65,323.13 102.20,325.50 C102.75,327.87 102.75,331.65 102.20,334.20 C101.65,336.75 100.55,339.23 98.90,340.80 C97.25,342.37 94.67,343.13 92.30,343.60 C89.93,344.07 87.25,344.07 84.70,343.60 C82.15,343.13 78.83,342.18 77.00,340.80 C75.17,339.42 74.25,337.48 73.70,335.30 C73.15,333.12 73.15,329.88 73.70,327.70Z" fill="url(#lung)"/>
<g clip-path="url(#lc1)">
<rect x="65.60" y="309.00" width="45.3" height="44.6" fill="#fff" filter="url(#tex)"/>
<rect x="65.60" y="309.00" width="45.3" height="44.6" fill="#fff" filter="url(#tex2)"/>
<g filter="url(#soft)">
<circle cx="81.84" cy="332.79" r="1.21" fill="#fbe0da" opacity="0.8"/>
<circle cx="88.55" cy="334.49" r="1.07" fill="#fbe0da" opacity="0.8"/>
<circle cx="80.29" cy="334.77" r="1.01" fill="#fbe0da" opacity="0.8"/>
<circle cx="84.56" cy="323.13" r="1.21" fill="#fbe0da" opacity="0.8"/>
<circle cx="87.64" cy="334.13" r="1.22" fill="#fbe0da" opacity="0.8"/>
<ellipse cx="86.5" cy="330" rx="2.6" ry="8" fill="#a01428" opacity="0.8"/>
</g>
</g>
<line x1="100.90" y1="350.50" x2="109.60" y2="350.50" stroke="#8c8c8c" stroke-width="1.2"/>
<rect x="115.60" y="309.00" width="45.5" height="44.6" fill="url(#tile)"/>
<clipPath id="lc2"><path d="M123.70,331.00 C123.70,328.27 124.43,325.68 125.90,323.30 C127.37,320.92 130.13,318.27 132.50,316.70 C134.87,315.13 137.55,313.90 140.10,313.90 C142.65,313.90 145.60,315.13 147.80,316.70 C150.00,318.27 152.20,320.75 153.30,323.30 C154.40,325.85 154.58,329.27 154.40,332.00 C154.22,334.73 153.48,337.50 152.20,339.70 C150.92,341.90 148.88,344.00 146.70,345.20 C144.52,346.40 141.65,346.98 139.10,346.90 C136.55,346.82 133.60,345.90 131.40,344.70 C129.20,343.50 127.18,341.98 125.90,339.70 C124.62,337.42 123.70,333.73 123.70,331.00Z"/></clipPath>
<path d="M123.70,331.00 C123.70,328.27 124.43,325.68 125.90,323.30 C127.37,320.92 130.13,318.27 132.50,316.70 C134.87,315.13 137.55,313.90 140.10,313.90 C142.65,313.90 145.60,315.13 147.80,316.70 C150.00,318.27 152.20,320.75 153.30,323.30 C154.40,325.85 154.58,329.27 154.40,332.00 C154.22,334.73 153.48,337.50 152.20,339.70 C150.92,341.90 148.88,344.00 146.70,345.20 C144.52,346.40 141.65,346.98 139.10,346.90 C136.55,346.82 133.60,345.90 131.40,344.70 C129.20,343.50 127.18,341.98 125.90,339.70 C124.62,337.42 123.70,333.73 123.70,331.00Z" fill="#ee9c8c" filter="url(#soft)" opacity="0.8"/>
<path d="M123.70,331.00 C123.70,328.27 124.43,325.68 125.90,323.30 C127.37,320.92 130.13,318.27 132.50,316.70 C134.87,315.13 137.55,313.90 140.10,313.90 C142.65,313.90 145.60,315.13 147.80,316.70 C150.00,318.27 152.20,320.75 153.30,323.30 C154.40,325.85 154.58,329.27 154.40,332.00 C154.22,334.73 153.48,337.50 152.20,339.70 C150.92,341.90 148.88,344.00 146.70,345.20 C144.52,346.40 141.65,346.98 139.10,346.90 C136.55,346.82 133.60,345.90 131.40,344.70 C129.20,343.50 127.18,341.98 125.90,339.70 C124.62,337.42 123.70,333.73 123.70,331.00Z" fill="url(#lung)"/>
<g clip-path="url(#lc2)">
<rect x="115.60" y="309.00" width="45.3" height="44.6" fill="#fff" filter="url(#tex)"/>
<rect x="115.60" y="309.00" width="45.3" height="44.6" fill="#fff" filter="url(#tex2)"/>
<g filter="url(#soft)">
<circle cx="143.27" cy="337.83" r="0.88" fill="#fbe0da" opacity="0.8"/>
<circle cx="144.83" cy="330.21" r="1.25" fill="#fbe0da" opacity="0.8"/>
<circle cx="146.24" cy="324.65" r="0.70" fill="#fbe0da" opacity="0.8"/>
<circle cx="134.32" cy="338.54" r="0.91" fill="#fbe0da" opacity="0.8"/>
<circle cx="141.70" cy="327.91" r="0.96" fill="#fbe0da" opacity="0.8"/>
<ellipse cx="138.5" cy="331" rx="2.6" ry="12" fill="#a01428" opacity="0.8"/>
</g>
</g>
<ellipse cx="144" cy="327.7" rx="0.9" ry="0.9" fill="#2a1416" opacity="0.85"/>
<ellipse cx="128.5" cy="331" rx="0.6" ry="0.6" fill="#2a1416" opacity="0.85"/>
<ellipse cx="135" cy="344" rx="0.7" ry="0.7" fill="#2a1416" opacity="0.85"/>
<line x1="150.90" y1="350.50" x2="159.60" y2="350.50" stroke="#8c8c8c" stroke-width="1.2"/>
<rect x="165.60" y="309.00" width="45.5" height="44.6" fill="url(#tile)"/>
<clipPath id="lc3"><path d="M173.10,331.00 C173.20,328.82 173.60,326.42 174.80,324.40 C176.00,322.38 178.10,320.18 180.30,318.90 C182.50,317.62 185.82,317.17 188.00,316.70 C190.18,316.23 191.58,315.55 193.40,316.10 C195.22,316.65 197.33,318.25 198.90,320.00 C200.47,321.75 202.07,324.05 202.80,326.60 C203.53,329.15 203.77,332.75 203.30,335.30 C202.83,337.85 201.65,340.15 200.00,341.90 C198.35,343.65 195.77,345.07 193.40,345.80 C191.03,346.53 188.35,346.77 185.80,346.30 C183.25,345.83 180.03,344.47 178.10,343.00 C176.17,341.53 175.03,339.50 174.20,337.50 C173.37,335.50 173.00,333.18 173.10,331.00Z"/></clipPath>
<path d="M173.10,331.00 C173.20,328.82 173.60,326.42 174.80,324.40 C176.00,322.38 178.10,320.18 180.30,318.90 C182.50,317.62 185.82,317.17 188.00,316.70 C190.18,316.23 191.58,315.55 193.40,316.10 C195.22,316.65 197.33,318.25 198.90,320.00 C200.47,321.75 202.07,324.05 202.80,326.60 C203.53,329.15 203.77,332.75 203.30,335.30 C202.83,337.85 201.65,340.15 200.00,341.90 C198.35,343.65 195.77,345.07 193.40,345.80 C191.03,346.53 188.35,346.77 185.80,346.30 C183.25,345.83 180.03,344.47 178.10,343.00 C176.17,341.53 175.03,339.50 174.20,337.50 C173.37,335.50 173.00,333.18 173.10,331.00Z" fill="#ee9c8c" filter="url(#soft)" opacity="0.8"/>
<path d="M173.10,331.00 C173.20,328.82 173.60,326.42 174.80,324.40 C176.00,322.38 178.10,320.18 180.30,318.90 C182.50,317.62 185.82,317.17 188.00,316.70 C190.18,316.23 191.58,315.55 193.40,316.10 C195.22,316.65 197.33,318.25 198.90,320.00 C200.47,321.75 202.07,324.05 202.80,326.60 C203.53,329.15 203.77,332.75 203.30,335.30 C202.83,337.85 201.65,340.15 200.00,341.90 C198.35,343.65 195.77,345.07 193.40,345.80 C191.03,346.53 188.35,346.77 185.80,346.30 C183.25,345.83 180.03,344.47 178.10,343.00 C176.17,341.53 175.03,339.50 174.20,337.50 C173.37,335.50 173.00,333.18 173.10,331.00Z" fill="url(#lung)"/>
<g clip-path="url(#lc3)">
<rect x="165.60" y="309.00" width="45.3" height="44.6" fill="#fff" filter="url(#tex)"/>
<rect x="165.60" y="309.00" width="45.3" height="44.6" fill="#fff" filter="url(#tex2)"/>
<g filter="url(#soft)">
<circle cx="186.11" cy="328.65" r="1.01" fill="#fbe0da" opacity="0.8"/>
<circle cx="189.68" cy="337.51" r="1.08" fill="#fbe0da" opacity="0.8"/>
<circle cx="195.88" cy="336.74" r="1.29" fill="#fbe0da" opacity="0.8"/>
<circle cx="191.24" cy="325.65" r="1.20" fill="#fbe0da" opacity="0.8"/>
<circle cx="196.52" cy="337.51" r="1.00" fill="#fbe0da" opacity="0.8"/>
<ellipse cx="187" cy="332" rx="2.2" ry="10" fill="#a01428" opacity="0.75"/>
</g>
</g>
<ellipse cx="198.4" cy="342.5" rx="1.5" ry="1.5" fill="#2a1416" opacity="0.85"/>
<ellipse cx="202.8" cy="334.2" rx="1.2" ry="1.2" fill="#2a1416" opacity="0.85"/>
<ellipse cx="181.9" cy="326.6" rx="0.8" ry="0.8" fill="#2a1416" opacity="0.85"/>
<ellipse cx="174.8" cy="329.3" rx="0.7" ry="0.7" fill="#2a1416" opacity="0.85"/>
<ellipse cx="178" cy="338" rx="0.6" ry="0.6" fill="#2a1416" opacity="0.85"/>
<line x1="200.90" y1="350.50" x2="209.60" y2="350.50" stroke="#8c8c8c" stroke-width="1.2"/>
<rect x="215.60" y="309.00" width="45.5" height="44.6" fill="url(#tile)"/>
<clipPath id="lc4"><path d="M224.80,323.30 C225.35,320.02 226.45,318.17 228.10,316.70 C229.75,315.23 232.33,314.78 234.70,314.50 C237.07,314.22 240.12,314.45 242.30,315.00 C244.48,315.55 246.33,316.05 247.80,317.80 C249.27,319.55 250.27,322.77 251.10,325.50 C251.93,328.23 252.80,331.47 252.80,334.20 C252.80,336.93 252.30,340.07 251.10,341.90 C249.90,343.73 247.60,344.10 245.60,345.20 C243.60,346.30 241.10,347.85 239.10,348.50 C237.10,349.15 235.43,349.83 233.60,349.10 C231.77,348.37 229.57,346.22 228.10,344.10 C226.63,341.98 225.35,339.87 224.80,336.40 C224.25,332.93 224.25,326.58 224.80,323.30Z"/></clipPath>
<path d="M224.80,323.30 C225.35,320.02 226.45,318.17 228.10,316.70 C229.75,315.23 232.33,314.78 234.70,314.50 C237.07,314.22 240.12,314.45 242.30,315.00 C244.48,315.55 246.33,316.05 247.80,317.80 C249.27,319.55 250.27,322.77 251.10,325.50 C251.93,328.23 252.80,331.47 252.80,334.20 C252.80,336.93 252.30,340.07 251.10,341.90 C249.90,343.73 247.60,344.10 245.60,345.20 C243.60,346.30 241.10,347.85 239.10,348.50 C237.10,349.15 235.43,349.83 233.60,349.10 C231.77,348.37 229.57,346.22 228.10,344.10 C226.63,341.98 225.35,339.87 224.80,336.40 C224.25,332.93 224.25,326.58 224.80,323.30Z" fill="#ee9c8c" filter="url(#soft)" opacity="0.8"/>
<path d="M224.80,323.30 C225.35,320.02 226.45,318.17 228.10,316.70 C229.75,315.23 232.33,314.78 234.70,314.50 C237.07,314.22 240.12,314.45 242.30,315.00 C244.48,315.55 246.33,316.05 247.80,317.80 C249.27,319.55 250.27,322.77 251.10,325.50 C251.93,328.23 252.80,331.47 252.80,334.20 C252.80,336.93 252.30,340.07 251.10,341.90 C249.90,343.73 247.60,344.10 245.60,345.20 C243.60,346.30 241.10,347.85 239.10,348.50 C237.10,349.15 235.43,349.83 233.60,349.10 C231.77,348.37 229.57,346.22 228.10,344.10 C226.63,341.98 225.35,339.87 224.80,336.40 C224.25,332.93 224.25,326.58 224.80,323.30Z" fill="url(#lung)"/>
<g clip-path="url(#lc4)">
<rect x="215.60" y="309.00" width="45.3" height="44.6" fill="#fff" filter="url(#tex)"/>
<rect x="215.60" y="309.00" width="45.3" height="44.6" fill="#fff" filter="url(#tex2)"/>
<g filter="url(#soft)">
<circle cx="242.61" cy="327.09" r="1.18" fill="#fbe0da" opacity="0.8"/>
<circle cx="240.09" cy="328.27" r="0.64" fill="#fbe0da" opacity="0.8"/>
<circle cx="245.13" cy="339.54" r="0.66" fill="#fbe0da" opacity="0.8"/>
<circle cx="244.17" cy="330.28" r="0.71" fill="#fbe0da" opacity="0.8"/>
<circle cx="235.05" cy="336.01" r="1.21" fill="#fbe0da" opacity="0.8"/>
<ellipse cx="237.4" cy="333" rx="1.8" ry="12" fill="#a01428" opacity="0.6"/>
</g>
</g>
<ellipse cx="229.7" cy="327.7" rx="1.8" ry="1.6" fill="#2a1416" opacity="0.85"/>
<ellipse cx="238.5" cy="324.9" rx="1.8" ry="1.8" fill="#2a1416" opacity="0.85"/>
<ellipse cx="243.4" cy="335.3" rx="1.8" ry="1.8" fill="#2a1416" opacity="0.85"/>
<ellipse cx="245.1" cy="343" rx="2.6" ry="1.8" fill="#2a1416" opacity="0.85"/>
<ellipse cx="251.7" cy="335.3" rx="1.1" ry="1.2" fill="#2a1416" opacity="0.85"/>
<ellipse cx="227" cy="319.4" rx="0.8" ry="0.8" fill="#2a1416" opacity="0.85"/>
<line x1="250.90" y1="350.50" x2="259.60" y2="350.50" stroke="#8c8c8c" stroke-width="1.2"/>
<rect x="265.60" y="309.00" width="45.5" height="44.6" fill="url(#tile)"/>
<clipPath id="lc5"><path d="M273.70,333.10 C274.07,330.73 275.35,327.87 277.00,325.50 C278.65,323.13 281.05,320.37 283.60,318.90 C286.15,317.43 289.75,316.70 292.30,316.70 C294.85,316.70 296.97,317.43 298.90,318.90 C300.83,320.37 302.88,322.95 303.90,325.50 C304.92,328.05 305.28,331.47 305.00,334.20 C304.72,336.93 303.77,339.97 302.20,341.90 C300.63,343.83 297.97,345.25 295.60,345.80 C293.23,346.35 290.55,345.67 288.00,345.20 C285.45,344.73 282.50,343.92 280.30,343.00 C278.10,342.08 275.90,341.35 274.80,339.70 C273.70,338.05 273.33,335.47 273.70,333.10Z"/></clipPath>
<path d="M273.70,333.10 C274.07,330.73 275.35,327.87 277.00,325.50 C278.65,323.13 281.05,320.37 283.60,318.90 C286.15,317.43 289.75,316.70 292.30,316.70 C294.85,316.70 296.97,317.43 298.90,318.90 C300.83,320.37 302.88,322.95 303.90,325.50 C304.92,328.05 305.28,331.47 305.00,334.20 C304.72,336.93 303.77,339.97 302.20,341.90 C300.63,343.83 297.97,345.25 295.60,345.80 C293.23,346.35 290.55,345.67 288.00,345.20 C285.45,344.73 282.50,343.92 280.30,343.00 C278.10,342.08 275.90,341.35 274.80,339.70 C273.70,338.05 273.33,335.47 273.70,333.10Z" fill="#ee9c8c" filter="url(#soft)" opacity="0.8"/>
<path d="M273.70,333.10 C274.07,330.73 275.35,327.87 277.00,325.50 C278.65,323.13 281.05,320.37 283.60,318.90 C286.15,317.43 289.75,316.70 292.30,316.70 C294.85,316.70 296.97,317.43 298.90,318.90 C300.83,320.37 302.88,322.95 303.90,325.50 C304.92,328.05 305.28,331.47 305.00,334.20 C304.72,336.93 303.77,339.97 302.20,341.90 C300.63,343.83 297.97,345.25 295.60,345.80 C293.23,346.35 290.55,345.67 288.00,345.20 C285.45,344.73 282.50,343.92 280.30,343.00 C278.10,342.08 275.90,341.35 274.80,339.70 C273.70,338.05 273.33,335.47 273.70,333.10Z" fill="url(#lung)"/>
<g clip-path="url(#lc5)">
<rect x="265.60" y="309.00" width="45.3" height="44.6" fill="#fff" filter="url(#tex)"/>
<rect x="265.60" y="309.00" width="45.3" height="44.6" fill="#fff" filter="url(#tex2)"/>
<g filter="url(#soft)">
<circle cx="281.40" cy="334.20" r="0.63" fill="#fbe0da" opacity="0.8"/>
<circle cx="293.54" cy="329.66" r="1.22" fill="#fbe0da" opacity="0.8"/>
<circle cx="298.26" cy="332.45" r="1.30" fill="#fbe0da" opacity="0.8"/>
<circle cx="286.18" cy="325.60" r="1.02" fill="#fbe0da" opacity="0.8"/>
<circle cx="281.17" cy="327.52" r="0.89" fill="#fbe0da" opacity="0.8"/>
<ellipse cx="289.6" cy="332" rx="2.4" ry="11" fill="#a01428" opacity="0.78"/>
</g>
</g>
<ellipse cx="295.1" cy="319.4" rx="2.2" ry="1.3" fill="#2a1416" opacity="0.85"/>
<ellipse cx="285.8" cy="329.9" rx="0.8" ry="0.8" fill="#2a1416" opacity="0.85"/>
<ellipse cx="275.9" cy="338" rx="0.8" ry="0.8" fill="#2a1416" opacity="0.85"/>
<ellipse cx="278.1" cy="341.4" rx="0.6" ry="0.6" fill="#2a1416" opacity="0.85"/>
<ellipse cx="291" cy="335" rx="0.7" ry="0.7" fill="#2a1416" opacity="0.85"/>
<line x1="300.90" y1="350.50" x2="309.60" y2="350.50" stroke="#8c8c8c" stroke-width="1.2"/>
<rect x="15.60" y="357.30" width="45.5" height="44.6" fill="url(#tile)"/>
<clipPath id="lc6"><path d="M22.60,379.00 C22.63,376.18 23.08,374.22 24.20,372.40 C25.32,370.58 27.37,369.28 29.30,368.10 C31.23,366.92 33.63,365.93 35.80,365.30 C37.97,364.67 40.22,363.75 42.30,364.30 C44.38,364.85 46.75,366.70 48.30,368.60 C49.85,370.50 50.92,373.25 51.60,375.70 C52.28,378.15 52.58,380.85 52.40,383.30 C52.22,385.75 51.82,388.40 50.50,390.40 C49.18,392.40 46.77,394.12 44.50,395.30 C42.23,396.48 39.43,397.68 36.90,397.50 C34.37,397.32 31.45,395.57 29.30,394.20 C27.15,392.83 25.12,391.83 24.00,389.30 C22.88,386.77 22.57,381.82 22.60,379.00Z"/></clipPath>
<path d="M22.60,379.00 C22.63,376.18 23.08,374.22 24.20,372.40 C25.32,370.58 27.37,369.28 29.30,368.10 C31.23,366.92 33.63,365.93 35.80,365.30 C37.97,364.67 40.22,363.75 42.30,364.30 C44.38,364.85 46.75,366.70 48.30,368.60 C49.85,370.50 50.92,373.25 51.60,375.70 C52.28,378.15 52.58,380.85 52.40,383.30 C52.22,385.75 51.82,388.40 50.50,390.40 C49.18,392.40 46.77,394.12 44.50,395.30 C42.23,396.48 39.43,397.68 36.90,397.50 C34.37,397.32 31.45,395.57 29.30,394.20 C27.15,392.83 25.12,391.83 24.00,389.30 C22.88,386.77 22.57,381.82 22.60,379.00Z" fill="#ee9c8c" filter="url(#soft)" opacity="0.8"/>
<path d="M22.60,379.00 C22.63,376.18 23.08,374.22 24.20,372.40 C25.32,370.58 27.37,369.28 29.30,368.10 C31.23,366.92 33.63,365.93 35.80,365.30 C37.97,364.67 40.22,363.75 42.30,364.30 C44.38,364.85 46.75,366.70 48.30,368.60 C49.85,370.50 50.92,373.25 51.60,375.70 C52.28,378.15 52.58,380.85 52.40,383.30 C52.22,385.75 51.82,388.40 50.50,390.40 C49.18,392.40 46.77,394.12 44.50,395.30 C42.23,396.48 39.43,397.68 36.90,397.50 C34.37,397.32 31.45,395.57 29.30,394.20 C27.15,392.83 25.12,391.83 24.00,389.30 C22.88,386.77 22.57,381.82 22.60,379.00Z" fill="url(#lung)"/>
<g clip-path="url(#lc6)">
<rect x="15.60" y="357.30" width="45.3" height="44.6" fill="#fff" filter="url(#tex)"/>
<rect x="15.60" y="357.30" width="45.3" height="44.6" fill="#fff" filter="url(#tex2)"/>
<g filter="url(#soft)">
<circle cx="39.81" cy="374.76" r="0.63" fill="#fbe0da" opacity="0.8"/>
<circle cx="44.44" cy="377.28" r="1.27" fill="#fbe0da" opacity="0.8"/>
<circle cx="44.96" cy="378.31" r="0.92" fill="#fbe0da" opacity="0.8"/>
<circle cx="38.18" cy="382.56" r="1.02" fill="#fbe0da" opacity="0.8"/>
<circle cx="38.89" cy="382.18" r="1.26" fill="#fbe0da" opacity="0.8"/>
</g>
</g>
<path d="M36.2,366.4 Q39.5,364.0 42.6,365.6 M37.4,366.6 Q33.6,372 34.4,378.7 Q35.3,382.2 37.9,383.5" fill="none" stroke="#2a1016" stroke-width="1.9" opacity="0.8" stroke-linecap="round"/>
<ellipse cx="41.2" cy="371.8" rx="1" ry="1" fill="#2a1416" opacity="0.85"/>
<ellipse cx="39.6" cy="377.3" rx="1.2" ry="1" fill="#2a1416" opacity="0.85"/>
<ellipse cx="50" cy="376.8" rx="1.1" ry="1.1" fill="#2a1416" opacity="0.85"/>
<ellipse cx="47.8" cy="379" rx="0.9" ry="0.9" fill="#2a1416" opacity="0.85"/>
<ellipse cx="51.1" cy="381.7" rx="0.9" ry="0.9" fill="#2a1416" opacity="0.85"/>
<ellipse cx="29.7" cy="379" rx="1" ry="1" fill="#2a1416" opacity="0.85"/>
<ellipse cx="24.2" cy="382.8" rx="0.9" ry="0.9" fill="#2a1416" opacity="0.85"/>
<ellipse cx="25.9" cy="387.7" rx="0.8" ry="0.8" fill="#2a1416" opacity="0.85"/>
<ellipse cx="32.5" cy="386.6" rx="0.9" ry="0.9" fill="#2a1416" opacity="0.85"/>
<ellipse cx="36.3" cy="392.1" rx="0.9" ry="0.9" fill="#2a1416" opacity="0.85"/>
<ellipse cx="39.6" cy="389.4" rx="0.9" ry="0.9" fill="#2a1416" opacity="0.85"/>
<ellipse cx="42.9" cy="392.1" rx="0.8" ry="0.8" fill="#2a1416" opacity="0.85"/>
<ellipse cx="29.2" cy="372.9" rx="0.8" ry="0.8" fill="#2a1416" opacity="0.85"/>
<ellipse cx="45.6" cy="385.5" rx="0.8" ry="0.8" fill="#2a1416" opacity="0.85"/>
<ellipse cx="33" cy="381" rx="1" ry="1" fill="#2a1416" opacity="0.85"/>
<line x1="50.90" y1="398.80" x2="59.60" y2="398.80" stroke="#8c8c8c" stroke-width="1.2"/>
<rect x="65.60" y="357.30" width="45.5" height="44.6" fill="url(#tile)"/>
<clipPath id="lc7"><path d="M71.50,382.20 C71.50,379.68 72.42,376.60 73.70,374.60 C74.98,372.60 77.37,371.40 79.20,370.20 C81.03,369.00 82.52,368.05 84.70,367.40 C86.88,366.75 89.93,366.02 92.30,366.30 C94.67,366.58 96.97,367.72 98.90,369.10 C100.83,370.48 102.88,372.60 103.90,374.60 C104.92,376.60 105.28,378.75 105.00,381.10 C104.72,383.45 103.58,386.72 102.20,388.70 C100.82,390.68 99.07,391.70 96.70,393.00 C94.33,394.30 90.73,396.25 88.00,396.50 C85.27,396.75 82.68,395.63 80.30,394.50 C77.92,393.37 75.17,391.75 73.70,389.70 C72.23,387.65 71.50,384.72 71.50,382.20Z"/></clipPath>
<path d="M71.50,382.20 C71.50,379.68 72.42,376.60 73.70,374.60 C74.98,372.60 77.37,371.40 79.20,370.20 C81.03,369.00 82.52,368.05 84.70,367.40 C86.88,366.75 89.93,366.02 92.30,366.30 C94.67,366.58 96.97,367.72 98.90,369.10 C100.83,370.48 102.88,372.60 103.90,374.60 C104.92,376.60 105.28,378.75 105.00,381.10 C104.72,383.45 103.58,386.72 102.20,388.70 C100.82,390.68 99.07,391.70 96.70,393.00 C94.33,394.30 90.73,396.25 88.00,396.50 C85.27,396.75 82.68,395.63 80.30,394.50 C77.92,393.37 75.17,391.75 73.70,389.70 C72.23,387.65 71.50,384.72 71.50,382.20Z" fill="#ee9c8c" filter="url(#soft)" opacity="0.8"/>
<path d="M71.50,382.20 C71.50,379.68 72.42,376.60 73.70,374.60 C74.98,372.60 77.37,371.40 79.20,370.20 C81.03,369.00 82.52,368.05 84.70,367.40 C86.88,366.75 89.93,366.02 92.30,366.30 C94.67,366.58 96.97,367.72 98.90,369.10 C100.83,370.48 102.88,372.60 103.90,374.60 C104.92,376.60 105.28,378.75 105.00,381.10 C104.72,383.45 103.58,386.72 102.20,388.70 C100.82,390.68 99.07,391.70 96.70,393.00 C94.33,394.30 90.73,396.25 88.00,396.50 C85.27,396.75 82.68,395.63 80.30,394.50 C77.92,393.37 75.17,391.75 73.70,389.70 C72.23,387.65 71.50,384.72 71.50,382.20Z" fill="url(#lung)"/>
<g clip-path="url(#lc7)">
<rect x="65.60" y="357.30" width="45.3" height="44.6" fill="#fff" filter="url(#tex)"/>
<rect x="65.60" y="357.30" width="45.3" height="44.6" fill="#fff" filter="url(#tex2)"/>
<g filter="url(#soft)">
<circle cx="88.60" cy="379.51" r="1.10" fill="#fbe0da" opacity="0.8"/>
<circle cx="83.75" cy="377.43" r="1.28" fill="#fbe0da" opacity="0.8"/>
<circle cx="88.85" cy="381.38" r="0.61" fill="#fbe0da" opacity="0.8"/>
<circle cx="86.94" cy="381.89" r="0.61" fill="#fbe0da" opacity="0.8"/>
<circle cx="90.55" cy="382.72" r="0.64" fill="#fbe0da" opacity="0.8"/>
<ellipse cx="94" cy="380" rx="5" ry="6" fill="#a01428" opacity="0.35"/>
</g>
</g>
<path d="M83.2,368.6 Q88,364.4 95,366 Q101.2,368.4 102.6,375.3 Q102.8,381 100.2,385.5 M84.2,374.4 Q88.2,376.2 92.3,378.9" fill="none" stroke="#2a1016" stroke-width="1.9" opacity="0.8" stroke-linecap="round"/>
<ellipse cx="92.3" cy="376.8" rx="1.6" ry="1.2" fill="#2a1416" opacity="0.85"/>
<ellipse cx="95.6" cy="379" rx="1.4" ry="1.2" fill="#2a1416" opacity="0.85"/>
<ellipse cx="98.9" cy="383.3" rx="1.3" ry="1.2" fill="#2a1416" opacity="0.85"/>
<ellipse cx="97.8" cy="387.7" rx="1.2" ry="1.1" fill="#2a1416" opacity="0.85"/>
<ellipse cx="100" cy="388.8" rx="1.1" ry="1.1" fill="#2a1416" opacity="0.85"/>
<ellipse cx="83.6" cy="374.6" rx="1.4" ry="1.2" fill="#2a1416" opacity="0.85"/>
<ellipse cx="91.2" cy="382.2" rx="1.1" ry="1.1" fill="#2a1416" opacity="0.85"/>
<ellipse cx="72.6" cy="382.8" rx="0.8" ry="0.8" fill="#2a1416" opacity="0.85"/>
<ellipse cx="88" cy="378" rx="1" ry="1" fill="#2a1416" opacity="0.85"/>
<ellipse cx="101" cy="379" rx="1" ry="1" fill="#2a1416" opacity="0.85"/>
<line x1="100.90" y1="398.80" x2="109.60" y2="398.80" stroke="#8c8c8c" stroke-width="1.2"/>
<rect x="115.60" y="357.30" width="45.5" height="44.6" fill="url(#tile)"/>
<clipPath id="lc8"><path d="M121.50,377.90 C121.68,375.72 122.23,373.05 123.70,371.30 C125.17,369.55 127.92,368.32 130.30,367.40 C132.68,366.48 135.45,366.35 138.00,365.80 C140.55,365.25 143.23,363.73 145.60,364.10 C147.97,364.47 150.45,366.07 152.20,368.00 C153.95,369.93 155.55,372.97 156.10,375.70 C156.65,378.43 156.33,382.03 155.50,384.40 C154.67,386.77 153.12,388.43 151.10,389.90 C149.08,391.37 145.95,392.65 143.40,393.20 C140.85,393.75 138.35,393.75 135.80,393.20 C133.25,392.65 130.30,391.37 128.10,389.90 C125.90,388.43 123.70,386.40 122.60,384.40 C121.50,382.40 121.32,380.08 121.50,377.90Z"/></clipPath>
<path d="M121.50,377.90 C121.68,375.72 122.23,373.05 123.70,371.30 C125.17,369.55 127.92,368.32 130.30,367.40 C132.68,366.48 135.45,366.35 138.00,365.80 C140.55,365.25 143.23,363.73 145.60,364.10 C147.97,364.47 150.45,366.07 152.20,368.00 C153.95,369.93 155.55,372.97 156.10,375.70 C156.65,378.43 156.33,382.03 155.50,384.40 C154.67,386.77 153.12,388.43 151.10,389.90 C149.08,391.37 145.95,392.65 143.40,393.20 C140.85,393.75 138.35,393.75 135.80,393.20 C133.25,392.65 130.30,391.37 128.10,389.90 C125.90,388.43 123.70,386.40 122.60,384.40 C121.50,382.40 121.32,380.08 121.50,377.90Z" fill="#ee9c8c" filter="url(#soft)" opacity="0.8"/>
<path d="M121.50,377.90 C121.68,375.72 122.23,373.05 123.70,371.30 C125.17,369.55 127.92,368.32 130.30,367.40 C132.68,366.48 135.45,366.35 138.00,365.80 C140.55,365.25 143.23,363.73 145.60,364.10 C147.97,364.47 150.45,366.07 152.20,368.00 C153.95,369.93 155.55,372.97 156.10,375.70 C156.65,378.43 156.33,382.03 155.50,384.40 C154.67,386.77 153.12,388.43 151.10,389.90 C149.08,391.37 145.95,392.65 143.40,393.20 C140.85,393.75 138.35,393.75 135.80,393.20 C133.25,392.65 130.30,391.37 128.10,389.90 C125.90,388.43 123.70,386.40 122.60,384.40 C121.50,382.40 121.32,380.08 121.50,377.90Z" fill="url(#lung)"/>
<g clip-path="url(#lc8)">
<rect x="115.60" y="357.30" width="45.3" height="44.6" fill="#fff" filter="url(#tex)"/>
<rect x="115.60" y="357.30" width="45.3" height="44.6" fill="#fff" filter="url(#tex2)"/>
<g filter="url(#soft)">
<circle cx="141.05" cy="378.32" r="1.08" fill="#fbe0da" opacity="0.8"/>
<circle cx="136.11" cy="382.17" r="1.12" fill="#fbe0da" opacity="0.8"/>
<circle cx="130.16" cy="371.83" r="1.07" fill="#fbe0da" opacity="0.8"/>
<circle cx="147.10" cy="374.88" r="0.92" fill="#fbe0da" opacity="0.8"/>
<circle cx="140.43" cy="375.98" r="0.85" fill="#fbe0da" opacity="0.8"/>
<ellipse cx="126.56" cy="373.90" rx="2.74" ry="2.55" fill="#24101a" opacity="0.9"/>
<ellipse cx="127.05" cy="377.29" rx="1.96" ry="2.95" fill="#24101a" opacity="0.9"/>
<ellipse cx="129.81" cy="373.40" rx="2.23" ry="3.31" fill="#24101a" opacity="0.9"/>
<ellipse cx="125.99" cy="372.37" rx="2.52" ry="3.15" fill="#24101a" opacity="0.9"/>
<ellipse cx="124.93" cy="373.50" rx="2.38" ry="3.35" fill="#24101a" opacity="0.9"/>
<ellipse cx="127.53" cy="377.99" rx="2.16" ry="2.61" fill="#24101a" opacity="0.9"/>
<ellipse cx="129.16" cy="378.23" rx="2.55" ry="2.44" fill="#24101a" opacity="0.9"/>
<ellipse cx="136.61" cy="376.23" rx="1.79" ry="3.03" fill="#24101a" opacity="0.9"/>
<ellipse cx="141.13" cy="373.56" rx="1.89" ry="3.03" fill="#24101a" opacity="0.9"/>
<ellipse cx="139.89" cy="378.36" rx="1.96" ry="2.10" fill="#24101a" opacity="0.9"/>
<ellipse cx="137.69" cy="378.26" rx="1.88" ry="2.40" fill="#24101a" opacity="0.9"/>
<ellipse cx="138.48" cy="375.38" rx="2.04" ry="3.19" fill="#24101a" opacity="0.9"/>
<ellipse cx="136.83" cy="372.19" rx="2.64" ry="3.13" fill="#24101a" opacity="0.9"/>
<ellipse cx="142.07" cy="375.49" rx="2.64" ry="3.20" fill="#24101a" opacity="0.9"/>
<ellipse cx="148.94" cy="380.08" rx="2.24" ry="3.87" fill="#24101a" opacity="0.9"/>
<ellipse cx="150.61" cy="375.28" rx="1.74" ry="3.05" fill="#24101a" opacity="0.9"/>
<ellipse cx="148.08" cy="378.43" rx="1.69" ry="4.14" fill="#24101a" opacity="0.9"/>
<ellipse cx="147.95" cy="381.74" rx="2.09" ry="4.36" fill="#24101a" opacity="0.9"/>
<ellipse cx="152.72" cy="381.70" rx="1.98" ry="2.65" fill="#24101a" opacity="0.9"/>
<ellipse cx="151.87" cy="374.05" rx="1.70" ry="3.87" fill="#24101a" opacity="0.9"/>
<ellipse cx="150.64" cy="376.59" rx="2.34" ry="3.77" fill="#24101a" opacity="0.9"/>
<ellipse cx="132.83" cy="386.79" rx="4.24" ry="1.64" fill="#24101a" opacity="0.9"/>
<ellipse cx="137.46" cy="387.27" rx="3.00" ry="1.69" fill="#24101a" opacity="0.9"/>
<ellipse cx="137.83" cy="386.39" rx="4.11" ry="2.03" fill="#24101a" opacity="0.9"/>
<ellipse cx="137.71" cy="389.59" rx="2.64" ry="1.78" fill="#24101a" opacity="0.9"/>
<ellipse cx="138.31" cy="385.79" rx="3.13" ry="1.46" fill="#24101a" opacity="0.9"/>
<ellipse cx="134.79" cy="387.62" rx="3.51" ry="1.90" fill="#24101a" opacity="0.9"/>
<ellipse cx="129.27" cy="385.82" rx="2.86" ry="1.33" fill="#24101a" opacity="0.9"/>
<ellipse cx="145" cy="372" rx="3" ry="3" fill="#a01428" opacity="0.6"/>
</g>
</g>
<ellipse cx="131" cy="389.5" rx="1.6" ry="1.6" fill="#2a1416" opacity="0.85"/>
<ellipse cx="127" cy="386" rx="1.4" ry="1.4" fill="#2a1416" opacity="0.85"/>
<ellipse cx="148" cy="387" rx="1.3" ry="1.3" fill="#2a1416" opacity="0.85"/>
<ellipse cx="142" cy="391" rx="1.2" ry="1.2" fill="#2a1416" opacity="0.85"/>
<line x1="150.90" y1="398.80" x2="159.60" y2="398.80" stroke="#8c8c8c" stroke-width="1.2"/>
<rect x="165.60" y="357.30" width="45.5" height="44.6" fill="url(#tile)"/>
<clipPath id="lc9"><path d="M172.60,379.00 C172.78,376.82 173.52,374.23 174.80,372.40 C176.08,370.57 178.10,369.20 180.30,368.00 C182.50,366.80 185.45,365.67 188.00,365.20 C190.55,364.73 193.42,364.73 195.60,365.20 C197.78,365.67 199.72,366.43 201.10,368.00 C202.48,369.57 203.43,372.05 203.90,374.60 C204.37,377.15 204.37,380.93 203.90,383.30 C203.43,385.67 202.48,387.33 201.10,388.80 C199.72,390.27 197.97,391.45 195.60,392.10 C193.23,392.75 189.63,393.07 186.90,392.70 C184.17,392.33 181.40,391.10 179.20,389.90 C177.00,388.70 174.80,387.32 173.70,385.50 C172.60,383.68 172.42,381.18 172.60,379.00Z"/></clipPath>
<path d="M172.60,379.00 C172.78,376.82 173.52,374.23 174.80,372.40 C176.08,370.57 178.10,369.20 180.30,368.00 C182.50,366.80 185.45,365.67 188.00,365.20 C190.55,364.73 193.42,364.73 195.60,365.20 C197.78,365.67 199.72,366.43 201.10,368.00 C202.48,369.57 203.43,372.05 203.90,374.60 C204.37,377.15 204.37,380.93 203.90,383.30 C203.43,385.67 202.48,387.33 201.10,388.80 C199.72,390.27 197.97,391.45 195.60,392.10 C193.23,392.75 189.63,393.07 186.90,392.70 C184.17,392.33 181.40,391.10 179.20,389.90 C177.00,388.70 174.80,387.32 173.70,385.50 C172.60,383.68 172.42,381.18 172.60,379.00Z" fill="#ee9c8c" filter="url(#soft)" opacity="0.8"/>
<path d="M172.60,379.00 C172.78,376.82 173.52,374.23 174.80,372.40 C176.08,370.57 178.10,369.20 180.30,368.00 C182.50,366.80 185.45,365.67 188.00,365.20 C190.55,364.73 193.42,364.73 195.60,365.20 C197.78,365.67 199.72,366.43 201.10,368.00 C202.48,369.57 203.43,372.05 203.90,374.60 C204.37,377.15 204.37,380.93 203.90,383.30 C203.43,385.67 202.48,387.33 201.10,388.80 C199.72,390.27 197.97,391.45 195.60,392.10 C193.23,392.75 189.63,393.07 186.90,392.70 C184.17,392.33 181.40,391.10 179.20,389.90 C177.00,388.70 174.80,387.32 173.70,385.50 C172.60,383.68 172.42,381.18 172.60,379.00Z" fill="url(#lung)"/>
<g clip-path="url(#lc9)">
<rect x="165.60" y="357.30" width="45.3" height="44.6" fill="#fff" filter="url(#tex)"/>
<rect x="165.60" y="357.30" width="45.3" height="44.6" fill="#fff" filter="url(#tex2)"/>
<g filter="url(#soft)">
<circle cx="181.21" cy="386.42" r="1.20" fill="#fbe0da" opacity="0.8"/>
<circle cx="181.53" cy="378.86" r="0.82" fill="#fbe0da" opacity="0.8"/>
<circle cx="185.64" cy="376.44" r="1.05" fill="#fbe0da" opacity="0.8"/>
<circle cx="190.54" cy="376.60" r="0.73" fill="#fbe0da" opacity="0.8"/>
<circle cx="185.89" cy="372.80" r="0.99" fill="#fbe0da" opacity="0.8"/>
<ellipse cx="189" cy="378" rx="8" ry="8" fill="#a01428" opacity="0.3"/>
</g>
</g>
<ellipse cx="174.8" cy="378.4" rx="1.3" ry="1.3" fill="#2a1416" opacity="0.85"/>
<ellipse cx="201.1" cy="368.5" rx="1.1" ry="1.1" fill="#2a1416" opacity="0.85"/>
<ellipse cx="198.4" cy="376.8" rx="1.1" ry="1.1" fill="#2a1416" opacity="0.85"/>
<ellipse cx="201.7" cy="375.1" rx="1" ry="1" fill="#2a1416" opacity="0.85"/>
<ellipse cx="201.7" cy="382.8" rx="1" ry="1" fill="#2a1416" opacity="0.85"/>
<ellipse cx="195.6" cy="382.8" rx="1" ry="1" fill="#2a1416" opacity="0.85"/>
<ellipse cx="192.3" cy="388.8" rx="1" ry="1" fill="#2a1416" opacity="0.85"/>
<ellipse cx="184.1" cy="374.6" rx="0.9" ry="0.9" fill="#2a1416" opacity="0.85"/>
<ellipse cx="188.5" cy="379" rx="0.9" ry="0.9" fill="#2a1416" opacity="0.85"/>
<ellipse cx="181.4" cy="382.8" rx="0.9" ry="0.9" fill="#2a1416" opacity="0.85"/>
<ellipse cx="185.2" cy="387.2" rx="0.9" ry="0.9" fill="#2a1416" opacity="0.85"/>
<ellipse cx="196.7" cy="388.8" rx="0.9" ry="0.9" fill="#2a1416" opacity="0.85"/>
<ellipse cx="190" cy="370" rx="0.9" ry="0.9" fill="#2a1416" opacity="0.85"/>
<line x1="200.90" y1="398.80" x2="209.60" y2="398.80" stroke="#8c8c8c" stroke-width="1.2"/>
<rect x="215.60" y="357.30" width="45.5" height="44.6" fill="url(#tile)"/>
<clipPath id="lc10"><path d="M230.30,366.90 C231.58,365.62 235.27,364.98 238.00,364.70 C240.73,364.42 244.78,364.28 246.70,365.20 C248.62,366.12 248.77,367.90 249.50,370.20 C250.23,372.50 250.83,376.08 251.10,379.00 C251.37,381.92 251.65,385.33 251.10,387.70 C250.55,390.07 249.63,391.92 247.80,393.20 C245.97,394.48 242.65,395.12 240.10,395.40 C237.55,395.68 234.68,395.82 232.50,394.90 C230.32,393.98 228.10,392.02 227.00,389.90 C225.90,387.78 225.72,384.38 225.90,382.20 C226.08,380.02 227.37,378.43 228.10,376.80 C228.83,375.17 229.93,374.05 230.30,372.40 C230.67,370.75 229.02,368.18 230.30,366.90Z"/></clipPath>
<path d="M230.30,366.90 C231.58,365.62 235.27,364.98 238.00,364.70 C240.73,364.42 244.78,364.28 246.70,365.20 C248.62,366.12 248.77,367.90 249.50,370.20 C250.23,372.50 250.83,376.08 251.10,379.00 C251.37,381.92 251.65,385.33 251.10,387.70 C250.55,390.07 249.63,391.92 247.80,393.20 C245.97,394.48 242.65,395.12 240.10,395.40 C237.55,395.68 234.68,395.82 232.50,394.90 C230.32,393.98 228.10,392.02 227.00,389.90 C225.90,387.78 225.72,384.38 225.90,382.20 C226.08,380.02 227.37,378.43 228.10,376.80 C228.83,375.17 229.93,374.05 230.30,372.40 C230.67,370.75 229.02,368.18 230.30,366.90Z" fill="#ee9c8c" filter="url(#soft)" opacity="0.8"/>
<path d="M230.30,366.90 C231.58,365.62 235.27,364.98 238.00,364.70 C240.73,364.42 244.78,364.28 246.70,365.20 C248.62,366.12 248.77,367.90 249.50,370.20 C250.23,372.50 250.83,376.08 251.10,379.00 C251.37,381.92 251.65,385.33 251.10,387.70 C250.55,390.07 249.63,391.92 247.80,393.20 C245.97,394.48 242.65,395.12 240.10,395.40 C237.55,395.68 234.68,395.82 232.50,394.90 C230.32,393.98 228.10,392.02 227.00,389.90 C225.90,387.78 225.72,384.38 225.90,382.20 C226.08,380.02 227.37,378.43 228.10,376.80 C228.83,375.17 229.93,374.05 230.30,372.40 C230.67,370.75 229.02,368.18 230.30,366.90Z" fill="url(#lung)"/>
<g clip-path="url(#lc10)">
<rect x="215.60" y="357.30" width="45.3" height="44.6" fill="#fff" filter="url(#tex)"/>
<rect x="215.60" y="357.30" width="45.3" height="44.6" fill="#fff" filter="url(#tex2)"/>
<g filter="url(#soft)">
<circle cx="242.23" cy="377.97" r="0.66" fill="#fbe0da" opacity="0.8"/>
<circle cx="232.55" cy="377.86" r="1.02" fill="#fbe0da" opacity="0.8"/>
<circle cx="243.43" cy="377.97" r="1.16" fill="#fbe0da" opacity="0.8"/>
<circle cx="240.55" cy="378.79" r="0.86" fill="#fbe0da" opacity="0.8"/>
<circle cx="238.27" cy="383.13" r="0.89" fill="#fbe0da" opacity="0.8"/>
</g>
</g>
<ellipse cx="233.6" cy="374.6" rx="1.5" ry="1.3" fill="#2a1416" opacity="0.85"/>
<ellipse cx="242.9" cy="368" rx="1.2" ry="1.2" fill="#2a1416" opacity="0.85"/>
<ellipse cx="245.1" cy="372.9" rx="1.1" ry="1.1" fill="#2a1416" opacity="0.85"/>
<ellipse cx="248.9" cy="371.3" rx="1" ry="1" fill="#2a1416" opacity="0.85"/>
<ellipse cx="229.2" cy="376.8" rx="1" ry="1" fill="#2a1416" opacity="0.85"/>
<ellipse cx="229.7" cy="382.2" rx="1" ry="1" fill="#2a1416" opacity="0.85"/>
<ellipse cx="235.8" cy="382.8" rx="1" ry="1" fill="#2a1416" opacity="0.85"/>
<ellipse cx="241.2" cy="375.7" rx="1" ry="1" fill="#2a1416" opacity="0.85"/>
<ellipse cx="242.9" cy="380.6" rx="1" ry="1" fill="#2a1416" opacity="0.85"/>
<ellipse cx="250" cy="377.3" rx="0.9" ry="0.9" fill="#2a1416" opacity="0.85"/>
<ellipse cx="231.4" cy="386.1" rx="0.9" ry="0.9" fill="#2a1416" opacity="0.85"/>
<ellipse cx="233.6" cy="390" rx="1.1" ry="1.1" fill="#2a1416" opacity="0.85"/>
<ellipse cx="239.6" cy="385" rx="0.9" ry="0.9" fill="#2a1416" opacity="0.85"/>
<ellipse cx="249.5" cy="386.6" rx="0.9" ry="0.9" fill="#2a1416" opacity="0.85"/>
<line x1="250.90" y1="398.80" x2="259.60" y2="398.80" stroke="#8c8c8c" stroke-width="1.2"/>
<rect x="265.60" y="357.30" width="45.5" height="44.6" fill="url(#tile)"/>
<clipPath id="lc11"><path d="M272.00,375.70 C272.37,373.33 273.23,370.93 274.80,369.10 C276.37,367.27 278.85,365.35 281.40,364.70 C283.95,364.05 287.37,364.65 290.10,365.20 C292.83,365.75 295.60,366.43 297.80,368.00 C300.00,369.57 302.10,372.23 303.30,374.60 C304.50,376.97 305.00,379.65 305.00,382.20 C305.00,384.75 304.50,387.78 303.30,389.90 C302.10,392.02 299.63,394.35 297.80,394.90 C295.97,395.45 293.93,394.22 292.30,393.20 C290.67,392.18 290.18,389.72 288.00,388.80 C285.82,387.88 281.77,388.62 279.20,387.70 C276.63,386.78 273.80,385.30 272.60,383.30 C271.40,381.30 271.63,378.07 272.00,375.70Z"/></clipPath>
<path d="M272.00,375.70 C272.37,373.33 273.23,370.93 274.80,369.10 C276.37,367.27 278.85,365.35 281.40,364.70 C283.95,364.05 287.37,364.65 290.10,365.20 C292.83,365.75 295.60,366.43 297.80,368.00 C300.00,369.57 302.10,372.23 303.30,374.60 C304.50,376.97 305.00,379.65 305.00,382.20 C305.00,384.75 304.50,387.78 303.30,389.90 C302.10,392.02 299.63,394.35 297.80,394.90 C295.97,395.45 293.93,394.22 292.30,393.20 C290.67,392.18 290.18,389.72 288.00,388.80 C285.82,387.88 281.77,388.62 279.20,387.70 C276.63,386.78 273.80,385.30 272.60,383.30 C271.40,381.30 271.63,378.07 272.00,375.70Z" fill="#ee9c8c" filter="url(#soft)" opacity="0.8"/>
<path d="M272.00,375.70 C272.37,373.33 273.23,370.93 274.80,369.10 C276.37,367.27 278.85,365.35 281.40,364.70 C283.95,364.05 287.37,364.65 290.10,365.20 C292.83,365.75 295.60,366.43 297.80,368.00 C300.00,369.57 302.10,372.23 303.30,374.60 C304.50,376.97 305.00,379.65 305.00,382.20 C305.00,384.75 304.50,387.78 303.30,389.90 C302.10,392.02 299.63,394.35 297.80,394.90 C295.97,395.45 293.93,394.22 292.30,393.20 C290.67,392.18 290.18,389.72 288.00,388.80 C285.82,387.88 281.77,388.62 279.20,387.70 C276.63,386.78 273.80,385.30 272.60,383.30 C271.40,381.30 271.63,378.07 272.00,375.70Z" fill="url(#lung)"/>
<g clip-path="url(#lc11)">
<rect x="265.60" y="357.30" width="45.3" height="44.6" fill="#fff" filter="url(#tex)"/>
<rect x="265.60" y="357.30" width="45.3" height="44.6" fill="#fff" filter="url(#tex2)"/>
<g filter="url(#soft)">
<circle cx="292.54" cy="379.17" r="0.77" fill="#fbe0da" opacity="0.8"/>
<circle cx="289.69" cy="382.92" r="0.65" fill="#fbe0da" opacity="0.8"/>
<circle cx="287.69" cy="378.61" r="1.22" fill="#fbe0da" opacity="0.8"/>
<circle cx="296.90" cy="377.78" r="1.23" fill="#fbe0da" opacity="0.8"/>
<circle cx="294.28" cy="375.99" r="0.92" fill="#fbe0da" opacity="0.8"/>
<ellipse cx="288.51" cy="380.69" rx="1.65" ry="2.86" fill="#24101a" opacity="0.9"/>
<ellipse cx="291.51" cy="379.67" rx="1.71" ry="2.45" fill="#24101a" opacity="0.9"/>
<ellipse cx="288.42" cy="379.11" rx="1.12" ry="1.93" fill="#24101a" opacity="0.9"/>
<ellipse cx="291.43" cy="375.31" rx="1.19" ry="1.87" fill="#24101a" opacity="0.9"/>
<ellipse cx="291.90" cy="376.25" rx="1.14" ry="2.80" fill="#24101a" opacity="0.9"/>
<ellipse cx="288.50" cy="380.91" rx="1.66" ry="2.80" fill="#24101a" opacity="0.9"/>
<ellipse cx="292.23" cy="379.05" rx="1.76" ry="1.80" fill="#24101a" opacity="0.9"/>
</g>
</g>
<ellipse cx="273.1" cy="374.6" rx="1.2" ry="1.2" fill="#2a1416" opacity="0.85"/>
<ellipse cx="273.7" cy="381.1" rx="1.2" ry="1.2" fill="#2a1416" opacity="0.85"/>
<ellipse cx="276.4" cy="369.1" rx="0.9" ry="0.9" fill="#2a1416" opacity="0.85"/>
<ellipse cx="294.5" cy="384.4" rx="1.2" ry="1.2" fill="#2a1416" opacity="0.85"/>
<ellipse cx="295.6" cy="394.9" rx="1.2" ry="1.2" fill="#2a1416" opacity="0.85"/>
<ellipse cx="295.6" cy="372.4" rx="0.9" ry="0.9" fill="#2a1416" opacity="0.85"/>
<ellipse cx="285.8" cy="373.5" rx="0.8" ry="0.8" fill="#2a1416" opacity="0.85"/>
<ellipse cx="300.5" cy="386" rx="0.8" ry="0.8" fill="#2a1416" opacity="0.85"/>
<line x1="300.90" y1="398.80" x2="309.60" y2="398.80" stroke="#8c8c8c" stroke-width="1.2"/>
<text x="306" y="397.6" font-size="3.9" text-anchor="middle" fill="#333" style="stroke:none">5mm</text>
</g></svg></body></html>
